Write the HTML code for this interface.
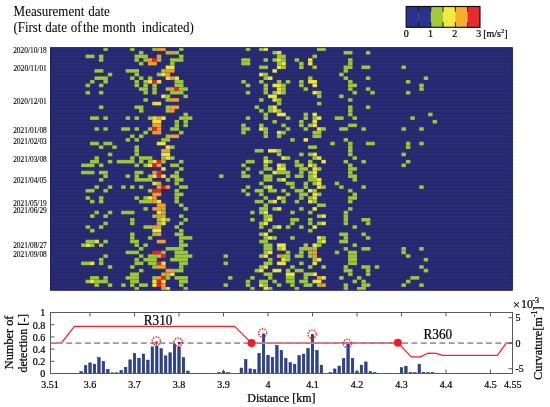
<!DOCTYPE html><html><head><meta charset="utf-8"><style>html,body{margin:0;padding:0;background:#fff;}svg{display:block;}text{font-family:"Liberation Serif","Times New Roman",serif;fill:#000;stroke:#000;stroke-width:0.22px;}</style></head><body>
<svg width="550" height="407" viewBox="0 0 550 407">
<rect x="0" y="0" width="550" height="407" fill="#fff"/>
<text transform="translate(0,15.6) scale(1,1.14)" font-size="13" style="stroke-width:0.03px"><tspan x="13.6" y="0">Measurement</tspan><tspan x="88.2" y="0">date</tspan></text>
<text transform="translate(0,31.8) scale(1,1.14)" font-size="13" style="stroke-width:0.03px"><tspan x="13.4" y="0">(First</tspan><tspan x="45.3" y="0">date</tspan><tspan x="70.8" y="0">of</tspan><tspan x="83.0" y="0">the</tspan><tspan x="102.6" y="0">month</tspan><tspan x="141.8" y="0">indicated)</tspan></text>
<rect x="406.2" y="6.5" width="12.58" height="20.8" fill="#29328f"/>
<rect x="418.48" y="6.5" width="12.58" height="20.8" fill="#29328f"/>
<rect x="430.77" y="6.5" width="12.58" height="20.8" fill="#a0ca3a"/>
<rect x="443.05" y="6.5" width="12.58" height="20.8" fill="#f2ea3e"/>
<rect x="455.33" y="6.5" width="12.58" height="20.8" fill="#f6ae2c"/>
<rect x="467.62" y="6.5" width="12.58" height="20.8" fill="#ea2a2e"/>
<line x1="418.48" y1="6.5" x2="418.48" y2="11.7" stroke="#151515" stroke-width="0.95"/>
<line x1="418.48" y1="27.3" x2="418.48" y2="22.1" stroke="#151515" stroke-width="0.95"/>
<line x1="430.77" y1="6.5" x2="430.77" y2="11.7" stroke="#151515" stroke-width="0.95"/>
<line x1="430.77" y1="27.3" x2="430.77" y2="22.1" stroke="#151515" stroke-width="0.95"/>
<line x1="443.05" y1="6.5" x2="443.05" y2="11.7" stroke="#151515" stroke-width="0.95"/>
<line x1="443.05" y1="27.3" x2="443.05" y2="22.1" stroke="#151515" stroke-width="0.95"/>
<line x1="455.33" y1="6.5" x2="455.33" y2="11.7" stroke="#151515" stroke-width="0.95"/>
<line x1="455.33" y1="27.3" x2="455.33" y2="22.1" stroke="#151515" stroke-width="0.95"/>
<line x1="467.62" y1="6.5" x2="467.62" y2="11.7" stroke="#151515" stroke-width="0.95"/>
<line x1="467.62" y1="27.3" x2="467.62" y2="22.1" stroke="#151515" stroke-width="0.95"/>
<rect x="406.2" y="6.5" width="73.7" height="20.8" fill="none" stroke="#111" stroke-width="1.2"/>
<text x="406.2" y="36.9" font-size="10" text-anchor="middle">0</text>
<text x="430.42" y="36.9" font-size="10" text-anchor="middle">1</text>
<text x="454.63" y="36.9" font-size="10" text-anchor="middle">2</text>
<text x="478.85" y="36.9" font-size="10" text-anchor="middle">3</text>
<text x="483.2" y="36.9" font-size="10">[m/s<tspan font-size="6.5" dy="-3.6">2</tspan><tspan dy="3.6">]</tspan></text>
<rect x="50" y="47.3" width="462.7" height="243.28" fill="#2a2b7c"/>
<rect x="50" y="50.18" width="462.7" height="1.8" fill="#292c6c" />
<rect x="50" y="53.81" width="462.7" height="1.8" fill="#292c6c" />
<rect x="50" y="57.44" width="462.7" height="1.8" fill="#292c6c" />
<rect x="50" y="61.07" width="462.7" height="1.8" fill="#292c6c" />
<rect x="50" y="64.7" width="462.7" height="1.8" fill="#292c6c" />
<rect x="50" y="68.34" width="462.7" height="1.8" fill="#292c6c" />
<rect x="50" y="71.97" width="462.7" height="1.8" fill="#292c6c" />
<rect x="50" y="75.6" width="462.7" height="1.8" fill="#292c6c" />
<rect x="50" y="79.23" width="462.7" height="1.8" fill="#292c6c" />
<rect x="50" y="82.86" width="462.7" height="1.8" fill="#292c6c" />
<rect x="50" y="86.49" width="462.7" height="1.8" fill="#292c6c" />
<rect x="50" y="90.12" width="462.7" height="1.8" fill="#292c6c" />
<rect x="50" y="93.75" width="462.7" height="1.8" fill="#292c6c" />
<rect x="50" y="97.38" width="462.7" height="1.8" fill="#292c6c" />
<rect x="50" y="101.01" width="462.7" height="1.8" fill="#292c6c" />
<rect x="50" y="104.65" width="462.7" height="1.8" fill="#292c6c" />
<rect x="50" y="108.28" width="462.7" height="1.8" fill="#292c6c" />
<rect x="50" y="111.91" width="462.7" height="1.8" fill="#292c6c" />
<rect x="50" y="115.54" width="462.7" height="1.8" fill="#292c6c" />
<rect x="50" y="119.17" width="462.7" height="1.8" fill="#292c6c" />
<rect x="50" y="122.8" width="462.7" height="1.8" fill="#292c6c" />
<rect x="50" y="126.43" width="462.7" height="1.8" fill="#292c6c" />
<rect x="50" y="130.06" width="462.7" height="1.8" fill="#292c6c" />
<rect x="50" y="133.69" width="462.7" height="1.8" fill="#292c6c" />
<rect x="50" y="137.32" width="462.7" height="1.8" fill="#292c6c" />
<rect x="50" y="140.96" width="462.7" height="1.8" fill="#292c6c" />
<rect x="50" y="144.59" width="462.7" height="1.8" fill="#292c6c" />
<rect x="50" y="148.22" width="462.7" height="1.8" fill="#292c6c" />
<rect x="50" y="151.85" width="462.7" height="1.8" fill="#292c6c" />
<rect x="50" y="155.48" width="462.7" height="1.8" fill="#292c6c" />
<rect x="50" y="159.11" width="462.7" height="1.8" fill="#292c6c" />
<rect x="50" y="162.74" width="462.7" height="1.8" fill="#292c6c" />
<rect x="50" y="166.37" width="462.7" height="1.8" fill="#292c6c" />
<rect x="50" y="170" width="462.7" height="1.8" fill="#292c6c" />
<rect x="50" y="173.63" width="462.7" height="1.8" fill="#292c6c" />
<rect x="50" y="177.27" width="462.7" height="1.8" fill="#292c6c" />
<rect x="50" y="180.9" width="462.7" height="1.8" fill="#292c6c" />
<rect x="50" y="184.53" width="462.7" height="1.8" fill="#292c6c" />
<rect x="50" y="188.16" width="462.7" height="1.8" fill="#292c6c" />
<rect x="50" y="191.79" width="462.7" height="1.8" fill="#292c6c" />
<rect x="50" y="195.42" width="462.7" height="1.8" fill="#292c6c" />
<rect x="50" y="199.05" width="462.7" height="1.8" fill="#292c6c" />
<rect x="50" y="202.68" width="462.7" height="1.8" fill="#292c6c" />
<rect x="50" y="206.31" width="462.7" height="1.8" fill="#292c6c" />
<rect x="50" y="209.94" width="462.7" height="1.8" fill="#292c6c" />
<rect x="50" y="213.58" width="462.7" height="1.8" fill="#292c6c" />
<rect x="50" y="217.21" width="462.7" height="1.8" fill="#292c6c" />
<rect x="50" y="220.84" width="462.7" height="1.8" fill="#292c6c" />
<rect x="50" y="224.47" width="462.7" height="1.8" fill="#292c6c" />
<rect x="50" y="228.1" width="462.7" height="1.8" fill="#292c6c" />
<rect x="50" y="231.73" width="462.7" height="1.8" fill="#292c6c" />
<rect x="50" y="235.36" width="462.7" height="1.8" fill="#292c6c" />
<rect x="50" y="238.99" width="462.7" height="1.8" fill="#292c6c" />
<rect x="50" y="242.62" width="462.7" height="1.8" fill="#292c6c" />
<rect x="50" y="246.25" width="462.7" height="1.8" fill="#292c6c" />
<rect x="50" y="249.89" width="462.7" height="1.8" fill="#292c6c" />
<rect x="50" y="253.52" width="462.7" height="1.8" fill="#292c6c" />
<rect x="50" y="257.15" width="462.7" height="1.8" fill="#292c6c" />
<rect x="50" y="260.78" width="462.7" height="1.8" fill="#292c6c" />
<rect x="50" y="264.41" width="462.7" height="1.8" fill="#292c6c" />
<rect x="50" y="268.04" width="462.7" height="1.8" fill="#292c6c" />
<rect x="50" y="271.67" width="462.7" height="1.8" fill="#292c6c" />
<rect x="50" y="275.3" width="462.7" height="1.8" fill="#292c6c" />
<rect x="50" y="278.93" width="462.7" height="1.8" fill="#292c6c" />
<rect x="50" y="282.56" width="462.7" height="1.8" fill="#292c6c" />
<rect x="50" y="286.2" width="462.7" height="1.8" fill="#292c6c" />
<rect x="103.39" y="47.3" width="4.45" height="3.63" fill="#9cc93a"/>
<rect x="130.08" y="47.3" width="4.45" height="3.63" fill="#9cc93a"/>
<rect x="152.33" y="47.3" width="4.45" height="3.63" fill="#9cc93a"/>
<rect x="156.78" y="47.3" width="8.9" height="3.63" fill="#f59f2a"/>
<rect x="179.02" y="47.3" width="4.45" height="3.63" fill="#9cc93a"/>
<rect x="245.76" y="47.3" width="4.45" height="3.63" fill="#9cc93a"/>
<rect x="259.1" y="47.3" width="4.45" height="3.63" fill="#9cc93a"/>
<rect x="263.55" y="47.3" width="4.45" height="3.63" fill="#eee63c"/>
<rect x="316.94" y="47.3" width="8.9" height="3.63" fill="#9cc93a"/>
<rect x="138.98" y="50.93" width="4.45" height="3.63" fill="#9cc93a"/>
<rect x="165.67" y="50.93" width="4.45" height="3.63" fill="#9cc93a"/>
<rect x="170.12" y="50.93" width="4.45" height="3.63" fill="#f59f2a"/>
<rect x="174.57" y="50.93" width="4.45" height="3.63" fill="#9cc93a"/>
<rect x="272.45" y="50.93" width="4.45" height="3.63" fill="#9cc93a"/>
<rect x="276.9" y="50.93" width="4.45" height="3.63" fill="#eee63c"/>
<rect x="343.63" y="50.93" width="8.9" height="3.63" fill="#9cc93a"/>
<rect x="365.88" y="50.93" width="4.45" height="3.63" fill="#9cc93a"/>
<rect x="85.59" y="54.56" width="8.9" height="3.63" fill="#9cc93a"/>
<rect x="98.94" y="54.56" width="4.45" height="3.63" fill="#9cc93a"/>
<rect x="134.53" y="54.56" width="13.35" height="3.63" fill="#9cc93a"/>
<rect x="156.78" y="54.56" width="4.45" height="3.63" fill="#f59f2a"/>
<rect x="179.02" y="54.56" width="4.45" height="3.63" fill="#9cc93a"/>
<rect x="276.9" y="54.56" width="8.9" height="3.63" fill="#9cc93a"/>
<rect x="312.49" y="54.56" width="4.45" height="3.63" fill="#9cc93a"/>
<rect x="98.94" y="58.19" width="4.45" height="3.63" fill="#9cc93a"/>
<rect x="134.53" y="58.19" width="4.45" height="3.63" fill="#9cc93a"/>
<rect x="143.43" y="58.19" width="4.45" height="3.63" fill="#9cc93a"/>
<rect x="147.88" y="58.19" width="4.45" height="3.63" fill="#f59f2a"/>
<rect x="152.33" y="58.19" width="4.45" height="3.63" fill="#ea2229"/>
<rect x="156.78" y="58.19" width="4.45" height="3.63" fill="#9cc93a"/>
<rect x="170.12" y="58.19" width="13.35" height="3.63" fill="#9cc93a"/>
<rect x="241.31" y="58.19" width="8.9" height="3.63" fill="#9cc93a"/>
<rect x="263.55" y="58.19" width="4.45" height="3.63" fill="#9cc93a"/>
<rect x="272.45" y="58.19" width="4.45" height="3.63" fill="#9cc93a"/>
<rect x="276.9" y="58.19" width="4.45" height="3.63" fill="#eee63c"/>
<rect x="281.35" y="58.19" width="4.45" height="3.63" fill="#9cc93a"/>
<rect x="294.69" y="58.19" width="4.45" height="3.63" fill="#9cc93a"/>
<rect x="308.04" y="58.19" width="4.45" height="3.63" fill="#eee63c"/>
<rect x="348.08" y="58.19" width="4.45" height="3.63" fill="#9cc93a"/>
<rect x="138.98" y="61.82" width="4.45" height="3.63" fill="#9cc93a"/>
<rect x="147.88" y="61.82" width="8.9" height="3.63" fill="#f59f2a"/>
<rect x="170.12" y="61.82" width="4.45" height="3.63" fill="#9cc93a"/>
<rect x="241.31" y="61.82" width="8.9" height="3.63" fill="#9cc93a"/>
<rect x="276.9" y="61.82" width="4.45" height="3.63" fill="#9cc93a"/>
<rect x="281.35" y="61.82" width="4.45" height="3.63" fill="#eee63c"/>
<rect x="299.14" y="61.82" width="4.45" height="3.63" fill="#9cc93a"/>
<rect x="308.04" y="61.82" width="4.45" height="3.63" fill="#eee63c"/>
<rect x="348.08" y="61.82" width="4.45" height="3.63" fill="#9cc93a"/>
<rect x="165.67" y="65.45" width="8.9" height="3.63" fill="#eee63c"/>
<rect x="259.1" y="65.45" width="8.9" height="3.63" fill="#9cc93a"/>
<rect x="276.9" y="65.45" width="4.45" height="3.63" fill="#eee63c"/>
<rect x="281.35" y="65.45" width="4.45" height="3.63" fill="#9cc93a"/>
<rect x="299.14" y="65.45" width="4.45" height="3.63" fill="#9cc93a"/>
<rect x="312.49" y="65.45" width="4.45" height="3.63" fill="#9cc93a"/>
<rect x="343.63" y="65.45" width="8.9" height="3.63" fill="#9cc93a"/>
<rect x="361.43" y="65.45" width="8.9" height="3.63" fill="#9cc93a"/>
<rect x="401.47" y="65.45" width="4.45" height="3.63" fill="#9cc93a"/>
<rect x="94.49" y="69.09" width="8.9" height="3.63" fill="#9cc93a"/>
<rect x="125.63" y="69.09" width="13.35" height="3.63" fill="#9cc93a"/>
<rect x="161.22" y="69.09" width="4.45" height="3.63" fill="#9cc93a"/>
<rect x="165.67" y="69.09" width="8.9" height="3.63" fill="#f59f2a"/>
<rect x="272.45" y="69.09" width="4.45" height="3.63" fill="#eee63c"/>
<rect x="343.63" y="69.09" width="4.45" height="3.63" fill="#9cc93a"/>
<rect x="107.84" y="72.72" width="4.45" height="3.63" fill="#9cc93a"/>
<rect x="134.53" y="72.72" width="4.45" height="3.63" fill="#9cc93a"/>
<rect x="156.78" y="72.72" width="4.45" height="3.63" fill="#9cc93a"/>
<rect x="161.22" y="72.72" width="4.45" height="3.63" fill="#eee63c"/>
<rect x="165.67" y="72.72" width="4.45" height="3.63" fill="#f59f2a"/>
<rect x="259.1" y="72.72" width="4.45" height="3.63" fill="#eee63c"/>
<rect x="263.55" y="72.72" width="4.45" height="3.63" fill="#9cc93a"/>
<rect x="339.19" y="72.72" width="4.45" height="3.63" fill="#9cc93a"/>
<rect x="94.49" y="76.35" width="13.35" height="3.63" fill="#9cc93a"/>
<rect x="130.08" y="76.35" width="4.45" height="3.63" fill="#9cc93a"/>
<rect x="138.98" y="76.35" width="4.45" height="3.63" fill="#9cc93a"/>
<rect x="147.88" y="76.35" width="4.45" height="3.63" fill="#9cc93a"/>
<rect x="165.67" y="76.35" width="4.45" height="3.63" fill="#eee63c"/>
<rect x="170.12" y="76.35" width="4.45" height="3.63" fill="#f59f2a"/>
<rect x="174.57" y="76.35" width="4.45" height="3.63" fill="#eee63c"/>
<rect x="263.55" y="76.35" width="4.45" height="3.63" fill="#9cc93a"/>
<rect x="268" y="76.35" width="4.45" height="3.63" fill="#eee63c"/>
<rect x="308.04" y="76.35" width="4.45" height="3.63" fill="#9cc93a"/>
<rect x="343.63" y="76.35" width="4.45" height="3.63" fill="#9cc93a"/>
<rect x="365.88" y="76.35" width="4.45" height="3.63" fill="#9cc93a"/>
<rect x="423.72" y="76.35" width="4.45" height="3.63" fill="#9cc93a"/>
<rect x="90.04" y="79.98" width="4.45" height="3.63" fill="#9cc93a"/>
<rect x="103.39" y="79.98" width="4.45" height="3.63" fill="#9cc93a"/>
<rect x="134.53" y="79.98" width="4.45" height="3.63" fill="#9cc93a"/>
<rect x="143.43" y="79.98" width="4.45" height="3.63" fill="#9cc93a"/>
<rect x="147.88" y="79.98" width="4.45" height="3.63" fill="#eee63c"/>
<rect x="152.33" y="79.98" width="4.45" height="3.63" fill="#ea2229"/>
<rect x="156.78" y="79.98" width="4.45" height="3.63" fill="#eee63c"/>
<rect x="174.57" y="79.98" width="8.9" height="3.63" fill="#9cc93a"/>
<rect x="241.31" y="79.98" width="4.45" height="3.63" fill="#9cc93a"/>
<rect x="259.1" y="79.98" width="4.45" height="3.63" fill="#9cc93a"/>
<rect x="276.9" y="79.98" width="4.45" height="3.63" fill="#9cc93a"/>
<rect x="285.8" y="79.98" width="4.45" height="3.63" fill="#9cc93a"/>
<rect x="299.14" y="79.98" width="4.45" height="3.63" fill="#9cc93a"/>
<rect x="308.04" y="79.98" width="8.9" height="3.63" fill="#eee63c"/>
<rect x="348.08" y="79.98" width="4.45" height="3.63" fill="#9cc93a"/>
<rect x="405.92" y="79.98" width="4.45" height="3.63" fill="#9cc93a"/>
<rect x="85.59" y="83.61" width="4.45" height="3.63" fill="#9cc93a"/>
<rect x="98.94" y="83.61" width="4.45" height="3.63" fill="#9cc93a"/>
<rect x="134.53" y="83.61" width="4.45" height="3.63" fill="#9cc93a"/>
<rect x="143.43" y="83.61" width="4.45" height="3.63" fill="#9cc93a"/>
<rect x="152.33" y="83.61" width="4.45" height="3.63" fill="#9cc93a"/>
<rect x="174.57" y="83.61" width="8.9" height="3.63" fill="#9cc93a"/>
<rect x="245.76" y="83.61" width="4.45" height="3.63" fill="#9cc93a"/>
<rect x="263.55" y="83.61" width="4.45" height="3.63" fill="#9cc93a"/>
<rect x="272.45" y="83.61" width="8.9" height="3.63" fill="#eee63c"/>
<rect x="281.35" y="83.61" width="4.45" height="3.63" fill="#9cc93a"/>
<rect x="299.14" y="83.61" width="4.45" height="3.63" fill="#9cc93a"/>
<rect x="312.49" y="83.61" width="4.45" height="3.63" fill="#eee63c"/>
<rect x="348.08" y="83.61" width="8.9" height="3.63" fill="#9cc93a"/>
<rect x="419.27" y="83.61" width="4.45" height="3.63" fill="#9cc93a"/>
<rect x="138.98" y="87.24" width="8.9" height="3.63" fill="#9cc93a"/>
<rect x="152.33" y="87.24" width="4.45" height="3.63" fill="#9cc93a"/>
<rect x="165.67" y="87.24" width="4.45" height="3.63" fill="#9cc93a"/>
<rect x="170.12" y="87.24" width="4.45" height="3.63" fill="#f59f2a"/>
<rect x="174.57" y="87.24" width="4.45" height="3.63" fill="#ea2229"/>
<rect x="179.02" y="87.24" width="8.9" height="3.63" fill="#9cc93a"/>
<rect x="263.55" y="87.24" width="4.45" height="3.63" fill="#9cc93a"/>
<rect x="276.9" y="87.24" width="4.45" height="3.63" fill="#eee63c"/>
<rect x="281.35" y="87.24" width="4.45" height="3.63" fill="#9cc93a"/>
<rect x="303.59" y="87.24" width="4.45" height="3.63" fill="#9cc93a"/>
<rect x="348.08" y="87.24" width="4.45" height="3.63" fill="#9cc93a"/>
<rect x="365.88" y="87.24" width="4.45" height="3.63" fill="#9cc93a"/>
<rect x="419.27" y="87.24" width="4.45" height="3.63" fill="#9cc93a"/>
<rect x="85.59" y="90.87" width="4.45" height="3.63" fill="#9cc93a"/>
<rect x="98.94" y="90.87" width="4.45" height="3.63" fill="#9cc93a"/>
<rect x="143.43" y="90.87" width="4.45" height="3.63" fill="#9cc93a"/>
<rect x="152.33" y="90.87" width="4.45" height="3.63" fill="#9cc93a"/>
<rect x="170.12" y="90.87" width="13.35" height="3.63" fill="#9cc93a"/>
<rect x="245.76" y="90.87" width="4.45" height="3.63" fill="#9cc93a"/>
<rect x="263.55" y="90.87" width="4.45" height="3.63" fill="#9cc93a"/>
<rect x="272.45" y="90.87" width="4.45" height="3.63" fill="#9cc93a"/>
<rect x="276.9" y="90.87" width="4.45" height="3.63" fill="#eee63c"/>
<rect x="281.35" y="90.87" width="4.45" height="3.63" fill="#9cc93a"/>
<rect x="312.49" y="90.87" width="4.45" height="3.63" fill="#eee63c"/>
<rect x="316.94" y="90.87" width="4.45" height="3.63" fill="#9cc93a"/>
<rect x="352.53" y="90.87" width="4.45" height="3.63" fill="#9cc93a"/>
<rect x="370.33" y="90.87" width="4.45" height="3.63" fill="#9cc93a"/>
<rect x="405.92" y="90.87" width="4.45" height="3.63" fill="#9cc93a"/>
<rect x="161.22" y="94.5" width="4.45" height="3.63" fill="#eee63c"/>
<rect x="165.67" y="94.5" width="4.45" height="3.63" fill="#9cc93a"/>
<rect x="183.47" y="94.5" width="4.45" height="3.63" fill="#9cc93a"/>
<rect x="268" y="94.5" width="8.9" height="3.63" fill="#eee63c"/>
<rect x="316.94" y="94.5" width="4.45" height="3.63" fill="#9cc93a"/>
<rect x="339.19" y="94.5" width="4.45" height="3.63" fill="#9cc93a"/>
<rect x="143.43" y="98.13" width="4.45" height="3.63" fill="#9cc93a"/>
<rect x="165.67" y="98.13" width="4.45" height="3.63" fill="#9cc93a"/>
<rect x="170.12" y="98.13" width="8.9" height="3.63" fill="#f59f2a"/>
<rect x="259.1" y="98.13" width="4.45" height="3.63" fill="#9cc93a"/>
<rect x="272.45" y="98.13" width="4.45" height="3.63" fill="#eee63c"/>
<rect x="276.9" y="98.13" width="4.45" height="3.63" fill="#9cc93a"/>
<rect x="348.08" y="98.13" width="4.45" height="3.63" fill="#9cc93a"/>
<rect x="152.33" y="101.76" width="8.9" height="3.63" fill="#eee63c"/>
<rect x="276.9" y="101.76" width="4.45" height="3.63" fill="#9cc93a"/>
<rect x="316.94" y="101.76" width="4.45" height="3.63" fill="#9cc93a"/>
<rect x="98.94" y="105.4" width="4.45" height="3.63" fill="#9cc93a"/>
<rect x="134.53" y="105.4" width="8.9" height="3.63" fill="#9cc93a"/>
<rect x="165.67" y="105.4" width="4.45" height="3.63" fill="#9cc93a"/>
<rect x="170.12" y="105.4" width="8.9" height="3.63" fill="#f59f2a"/>
<rect x="254.65" y="105.4" width="4.45" height="3.63" fill="#9cc93a"/>
<rect x="268" y="105.4" width="4.45" height="3.63" fill="#9cc93a"/>
<rect x="272.45" y="105.4" width="4.45" height="3.63" fill="#eee63c"/>
<rect x="348.08" y="105.4" width="4.45" height="3.63" fill="#9cc93a"/>
<rect x="365.88" y="105.4" width="4.45" height="3.63" fill="#9cc93a"/>
<rect x="138.98" y="109.03" width="4.45" height="3.63" fill="#9cc93a"/>
<rect x="165.67" y="109.03" width="4.45" height="3.63" fill="#9cc93a"/>
<rect x="170.12" y="109.03" width="4.45" height="3.63" fill="#f59f2a"/>
<rect x="259.1" y="109.03" width="4.45" height="3.63" fill="#9cc93a"/>
<rect x="268" y="109.03" width="4.45" height="3.63" fill="#9cc93a"/>
<rect x="272.45" y="109.03" width="4.45" height="3.63" fill="#eee63c"/>
<rect x="276.9" y="109.03" width="4.45" height="3.63" fill="#9cc93a"/>
<rect x="348.08" y="109.03" width="4.45" height="3.63" fill="#9cc93a"/>
<rect x="183.47" y="112.66" width="4.45" height="3.63" fill="#9cc93a"/>
<rect x="263.55" y="112.66" width="4.45" height="3.63" fill="#9cc93a"/>
<rect x="276.9" y="112.66" width="8.9" height="3.63" fill="#eee63c"/>
<rect x="303.59" y="112.66" width="4.45" height="3.63" fill="#9cc93a"/>
<rect x="312.49" y="112.66" width="4.45" height="3.63" fill="#eee63c"/>
<rect x="348.08" y="112.66" width="4.45" height="3.63" fill="#9cc93a"/>
<rect x="428.16" y="112.66" width="4.45" height="3.63" fill="#9cc93a"/>
<rect x="90.04" y="116.29" width="8.9" height="3.63" fill="#9cc93a"/>
<rect x="103.39" y="116.29" width="4.45" height="3.63" fill="#9cc93a"/>
<rect x="125.63" y="116.29" width="4.45" height="3.63" fill="#9cc93a"/>
<rect x="134.53" y="116.29" width="4.45" height="3.63" fill="#9cc93a"/>
<rect x="147.88" y="116.29" width="4.45" height="3.63" fill="#9cc93a"/>
<rect x="152.33" y="116.29" width="4.45" height="3.63" fill="#eee63c"/>
<rect x="156.78" y="116.29" width="4.45" height="3.63" fill="#f59f2a"/>
<rect x="161.22" y="116.29" width="4.45" height="3.63" fill="#eee63c"/>
<rect x="179.02" y="116.29" width="13.35" height="3.63" fill="#9cc93a"/>
<rect x="245.76" y="116.29" width="4.45" height="3.63" fill="#9cc93a"/>
<rect x="263.55" y="116.29" width="4.45" height="3.63" fill="#9cc93a"/>
<rect x="285.8" y="116.29" width="4.45" height="3.63" fill="#9cc93a"/>
<rect x="303.59" y="116.29" width="4.45" height="3.63" fill="#9cc93a"/>
<rect x="312.49" y="116.29" width="4.45" height="3.63" fill="#9cc93a"/>
<rect x="316.94" y="116.29" width="4.45" height="3.63" fill="#eee63c"/>
<rect x="334.74" y="116.29" width="8.9" height="3.63" fill="#9cc93a"/>
<rect x="352.53" y="116.29" width="4.45" height="3.63" fill="#9cc93a"/>
<rect x="410.37" y="116.29" width="4.45" height="3.63" fill="#9cc93a"/>
<rect x="152.33" y="119.92" width="8.9" height="3.63" fill="#eee63c"/>
<rect x="174.57" y="119.92" width="4.45" height="3.63" fill="#9cc93a"/>
<rect x="183.47" y="119.92" width="4.45" height="3.63" fill="#9cc93a"/>
<rect x="272.45" y="119.92" width="4.45" height="3.63" fill="#9cc93a"/>
<rect x="299.14" y="119.92" width="4.45" height="3.63" fill="#9cc93a"/>
<rect x="312.49" y="119.92" width="4.45" height="3.63" fill="#eee63c"/>
<rect x="432.61" y="119.92" width="4.45" height="3.63" fill="#9cc93a"/>
<rect x="152.33" y="123.55" width="8.9" height="3.63" fill="#f59f2a"/>
<rect x="174.57" y="123.55" width="4.45" height="3.63" fill="#9cc93a"/>
<rect x="183.47" y="123.55" width="4.45" height="3.63" fill="#9cc93a"/>
<rect x="241.31" y="123.55" width="4.45" height="3.63" fill="#9cc93a"/>
<rect x="259.1" y="123.55" width="4.45" height="3.63" fill="#9cc93a"/>
<rect x="281.35" y="123.55" width="4.45" height="3.63" fill="#9cc93a"/>
<rect x="299.14" y="123.55" width="4.45" height="3.63" fill="#9cc93a"/>
<rect x="308.04" y="123.55" width="4.45" height="3.63" fill="#9cc93a"/>
<rect x="312.49" y="123.55" width="4.45" height="3.63" fill="#eee63c"/>
<rect x="348.08" y="123.55" width="8.9" height="3.63" fill="#9cc93a"/>
<rect x="94.49" y="127.18" width="4.45" height="3.63" fill="#9cc93a"/>
<rect x="103.39" y="127.18" width="4.45" height="3.63" fill="#9cc93a"/>
<rect x="121.18" y="127.18" width="8.9" height="3.63" fill="#9cc93a"/>
<rect x="134.53" y="127.18" width="4.45" height="3.63" fill="#9cc93a"/>
<rect x="147.88" y="127.18" width="4.45" height="3.63" fill="#9cc93a"/>
<rect x="152.33" y="127.18" width="4.45" height="3.63" fill="#ea2229"/>
<rect x="156.78" y="127.18" width="4.45" height="3.63" fill="#f59f2a"/>
<rect x="170.12" y="127.18" width="8.9" height="3.63" fill="#9cc93a"/>
<rect x="241.31" y="127.18" width="8.9" height="3.63" fill="#9cc93a"/>
<rect x="259.1" y="127.18" width="4.45" height="3.63" fill="#eee63c"/>
<rect x="263.55" y="127.18" width="4.45" height="3.63" fill="#9cc93a"/>
<rect x="285.8" y="127.18" width="4.45" height="3.63" fill="#9cc93a"/>
<rect x="303.59" y="127.18" width="4.45" height="3.63" fill="#9cc93a"/>
<rect x="316.94" y="127.18" width="4.45" height="3.63" fill="#eee63c"/>
<rect x="321.39" y="127.18" width="4.45" height="3.63" fill="#9cc93a"/>
<rect x="339.19" y="127.18" width="8.9" height="3.63" fill="#9cc93a"/>
<rect x="361.43" y="127.18" width="4.45" height="3.63" fill="#9cc93a"/>
<rect x="401.47" y="127.18" width="4.45" height="3.63" fill="#9cc93a"/>
<rect x="419.27" y="127.18" width="4.45" height="3.63" fill="#9cc93a"/>
<rect x="143.43" y="130.81" width="4.45" height="3.63" fill="#9cc93a"/>
<rect x="152.33" y="130.81" width="8.9" height="3.63" fill="#f59f2a"/>
<rect x="179.02" y="130.81" width="4.45" height="3.63" fill="#9cc93a"/>
<rect x="241.31" y="130.81" width="4.45" height="3.63" fill="#9cc93a"/>
<rect x="263.55" y="130.81" width="4.45" height="3.63" fill="#9cc93a"/>
<rect x="276.9" y="130.81" width="4.45" height="3.63" fill="#eee63c"/>
<rect x="281.35" y="130.81" width="4.45" height="3.63" fill="#9cc93a"/>
<rect x="312.49" y="130.81" width="8.9" height="3.63" fill="#9cc93a"/>
<rect x="130.08" y="134.44" width="4.45" height="3.63" fill="#9cc93a"/>
<rect x="138.98" y="134.44" width="4.45" height="3.63" fill="#9cc93a"/>
<rect x="165.67" y="134.44" width="4.45" height="3.63" fill="#9cc93a"/>
<rect x="170.12" y="134.44" width="8.9" height="3.63" fill="#f59f2a"/>
<rect x="263.55" y="134.44" width="4.45" height="3.63" fill="#9cc93a"/>
<rect x="276.9" y="134.44" width="4.45" height="3.63" fill="#9cc93a"/>
<rect x="312.49" y="134.44" width="8.9" height="3.63" fill="#9cc93a"/>
<rect x="125.63" y="138.07" width="4.45" height="3.63" fill="#9cc93a"/>
<rect x="134.53" y="138.07" width="4.45" height="3.63" fill="#9cc93a"/>
<rect x="161.22" y="138.07" width="8.9" height="3.63" fill="#9cc93a"/>
<rect x="290.25" y="138.07" width="4.45" height="3.63" fill="#9cc93a"/>
<rect x="303.59" y="138.07" width="4.45" height="3.63" fill="#eee63c"/>
<rect x="343.63" y="138.07" width="4.45" height="3.63" fill="#9cc93a"/>
<rect x="90.04" y="141.71" width="8.9" height="3.63" fill="#9cc93a"/>
<rect x="103.39" y="141.71" width="8.9" height="3.63" fill="#9cc93a"/>
<rect x="156.78" y="141.71" width="8.9" height="3.63" fill="#eee63c"/>
<rect x="330.29" y="141.71" width="4.45" height="3.63" fill="#9cc93a"/>
<rect x="348.08" y="141.71" width="4.45" height="3.63" fill="#9cc93a"/>
<rect x="365.88" y="141.71" width="8.9" height="3.63" fill="#9cc93a"/>
<rect x="405.92" y="141.71" width="4.45" height="3.63" fill="#9cc93a"/>
<rect x="419.27" y="141.71" width="4.45" height="3.63" fill="#9cc93a"/>
<rect x="98.94" y="145.34" width="4.45" height="3.63" fill="#9cc93a"/>
<rect x="112.29" y="145.34" width="4.45" height="3.63" fill="#9cc93a"/>
<rect x="134.53" y="145.34" width="4.45" height="3.63" fill="#9cc93a"/>
<rect x="165.67" y="145.34" width="4.45" height="3.63" fill="#eee63c"/>
<rect x="170.12" y="145.34" width="4.45" height="3.63" fill="#9cc93a"/>
<rect x="308.04" y="145.34" width="8.9" height="3.63" fill="#9cc93a"/>
<rect x="348.08" y="145.34" width="4.45" height="3.63" fill="#9cc93a"/>
<rect x="405.92" y="145.34" width="4.45" height="3.63" fill="#9cc93a"/>
<rect x="134.53" y="148.97" width="4.45" height="3.63" fill="#9cc93a"/>
<rect x="161.22" y="148.97" width="8.9" height="3.63" fill="#f59f2a"/>
<rect x="254.65" y="148.97" width="8.9" height="3.63" fill="#9cc93a"/>
<rect x="268" y="148.97" width="8.9" height="3.63" fill="#eee63c"/>
<rect x="276.9" y="148.97" width="4.45" height="3.63" fill="#9cc93a"/>
<rect x="348.08" y="148.97" width="4.45" height="3.63" fill="#9cc93a"/>
<rect x="107.84" y="152.6" width="4.45" height="3.63" fill="#9cc93a"/>
<rect x="134.53" y="152.6" width="4.45" height="3.63" fill="#9cc93a"/>
<rect x="161.22" y="152.6" width="8.9" height="3.63" fill="#eee63c"/>
<rect x="276.9" y="152.6" width="4.45" height="3.63" fill="#9cc93a"/>
<rect x="299.14" y="152.6" width="4.45" height="3.63" fill="#9cc93a"/>
<rect x="308.04" y="152.6" width="4.45" height="3.63" fill="#9cc93a"/>
<rect x="312.49" y="152.6" width="4.45" height="3.63" fill="#eee63c"/>
<rect x="348.08" y="152.6" width="4.45" height="3.63" fill="#9cc93a"/>
<rect x="401.47" y="152.6" width="4.45" height="3.63" fill="#9cc93a"/>
<rect x="94.49" y="156.23" width="4.45" height="3.63" fill="#9cc93a"/>
<rect x="130.08" y="156.23" width="4.45" height="3.63" fill="#9cc93a"/>
<rect x="138.98" y="156.23" width="13.35" height="3.63" fill="#9cc93a"/>
<rect x="161.22" y="156.23" width="4.45" height="3.63" fill="#9cc93a"/>
<rect x="165.67" y="156.23" width="4.45" height="3.63" fill="#eee63c"/>
<rect x="170.12" y="156.23" width="4.45" height="3.63" fill="#9cc93a"/>
<rect x="263.55" y="156.23" width="4.45" height="3.63" fill="#9cc93a"/>
<rect x="281.35" y="156.23" width="4.45" height="3.63" fill="#eee63c"/>
<rect x="285.8" y="156.23" width="4.45" height="3.63" fill="#9cc93a"/>
<rect x="312.49" y="156.23" width="4.45" height="3.63" fill="#9cc93a"/>
<rect x="316.94" y="156.23" width="4.45" height="3.63" fill="#eee63c"/>
<rect x="352.53" y="156.23" width="4.45" height="3.63" fill="#9cc93a"/>
<rect x="90.04" y="159.86" width="8.9" height="3.63" fill="#9cc93a"/>
<rect x="107.84" y="159.86" width="4.45" height="3.63" fill="#9cc93a"/>
<rect x="116.73" y="159.86" width="17.8" height="3.63" fill="#9cc93a"/>
<rect x="138.98" y="159.86" width="4.45" height="3.63" fill="#9cc93a"/>
<rect x="147.88" y="159.86" width="4.45" height="3.63" fill="#9cc93a"/>
<rect x="152.33" y="159.86" width="4.45" height="3.63" fill="#eee63c"/>
<rect x="156.78" y="159.86" width="4.45" height="3.63" fill="#ea2229"/>
<rect x="161.22" y="159.86" width="4.45" height="3.63" fill="#9cc93a"/>
<rect x="179.02" y="159.86" width="4.45" height="3.63" fill="#9cc93a"/>
<rect x="245.76" y="159.86" width="8.9" height="3.63" fill="#9cc93a"/>
<rect x="263.55" y="159.86" width="4.45" height="3.63" fill="#eee63c"/>
<rect x="268" y="159.86" width="4.45" height="3.63" fill="#9cc93a"/>
<rect x="294.69" y="159.86" width="4.45" height="3.63" fill="#9cc93a"/>
<rect x="308.04" y="159.86" width="4.45" height="3.63" fill="#9cc93a"/>
<rect x="321.39" y="159.86" width="4.45" height="3.63" fill="#eee63c"/>
<rect x="343.63" y="159.86" width="4.45" height="3.63" fill="#9cc93a"/>
<rect x="361.43" y="159.86" width="4.45" height="3.63" fill="#9cc93a"/>
<rect x="405.92" y="159.86" width="4.45" height="3.63" fill="#9cc93a"/>
<rect x="81.14" y="163.49" width="13.35" height="3.63" fill="#9cc93a"/>
<rect x="98.94" y="163.49" width="4.45" height="3.63" fill="#9cc93a"/>
<rect x="134.53" y="163.49" width="4.45" height="3.63" fill="#9cc93a"/>
<rect x="143.43" y="163.49" width="4.45" height="3.63" fill="#9cc93a"/>
<rect x="147.88" y="163.49" width="4.45" height="3.63" fill="#eee63c"/>
<rect x="152.33" y="163.49" width="4.45" height="3.63" fill="#ea2229"/>
<rect x="156.78" y="163.49" width="4.45" height="3.63" fill="#f59f2a"/>
<rect x="170.12" y="163.49" width="8.9" height="3.63" fill="#9cc93a"/>
<rect x="241.31" y="163.49" width="4.45" height="3.63" fill="#9cc93a"/>
<rect x="263.55" y="163.49" width="4.45" height="3.63" fill="#9cc93a"/>
<rect x="276.9" y="163.49" width="4.45" height="3.63" fill="#eee63c"/>
<rect x="281.35" y="163.49" width="4.45" height="3.63" fill="#9cc93a"/>
<rect x="294.69" y="163.49" width="8.9" height="3.63" fill="#9cc93a"/>
<rect x="308.04" y="163.49" width="4.45" height="3.63" fill="#eee63c"/>
<rect x="312.49" y="163.49" width="4.45" height="3.63" fill="#9cc93a"/>
<rect x="348.08" y="163.49" width="4.45" height="3.63" fill="#9cc93a"/>
<rect x="401.47" y="163.49" width="4.45" height="3.63" fill="#9cc93a"/>
<rect x="161.22" y="167.12" width="4.45" height="3.63" fill="#eee63c"/>
<rect x="179.02" y="167.12" width="4.45" height="3.63" fill="#9cc93a"/>
<rect x="245.76" y="167.12" width="4.45" height="3.63" fill="#9cc93a"/>
<rect x="263.55" y="167.12" width="8.9" height="3.63" fill="#9cc93a"/>
<rect x="276.9" y="167.12" width="8.9" height="3.63" fill="#eee63c"/>
<rect x="299.14" y="167.12" width="8.9" height="3.63" fill="#9cc93a"/>
<rect x="312.49" y="167.12" width="4.45" height="3.63" fill="#eee63c"/>
<rect x="316.94" y="167.12" width="4.45" height="3.63" fill="#9cc93a"/>
<rect x="348.08" y="167.12" width="8.9" height="3.63" fill="#9cc93a"/>
<rect x="81.14" y="170.75" width="13.35" height="3.63" fill="#9cc93a"/>
<rect x="98.94" y="170.75" width="8.9" height="3.63" fill="#9cc93a"/>
<rect x="134.53" y="170.75" width="8.9" height="3.63" fill="#9cc93a"/>
<rect x="152.33" y="170.75" width="4.45" height="3.63" fill="#f59f2a"/>
<rect x="156.78" y="170.75" width="4.45" height="3.63" fill="#ea2229"/>
<rect x="174.57" y="170.75" width="4.45" height="3.63" fill="#9cc93a"/>
<rect x="241.31" y="170.75" width="4.45" height="3.63" fill="#9cc93a"/>
<rect x="259.1" y="170.75" width="4.45" height="3.63" fill="#9cc93a"/>
<rect x="272.45" y="170.75" width="4.45" height="3.63" fill="#eee63c"/>
<rect x="276.9" y="170.75" width="13.35" height="3.63" fill="#9cc93a"/>
<rect x="299.14" y="170.75" width="4.45" height="3.63" fill="#9cc93a"/>
<rect x="308.04" y="170.75" width="4.45" height="3.63" fill="#9cc93a"/>
<rect x="312.49" y="170.75" width="4.45" height="3.63" fill="#eee63c"/>
<rect x="348.08" y="170.75" width="4.45" height="3.63" fill="#9cc93a"/>
<rect x="103.39" y="174.38" width="4.45" height="3.63" fill="#9cc93a"/>
<rect x="125.63" y="174.38" width="4.45" height="3.63" fill="#9cc93a"/>
<rect x="134.53" y="174.38" width="4.45" height="3.63" fill="#9cc93a"/>
<rect x="147.88" y="174.38" width="4.45" height="3.63" fill="#9cc93a"/>
<rect x="152.33" y="174.38" width="4.45" height="3.63" fill="#eee63c"/>
<rect x="156.78" y="174.38" width="4.45" height="3.63" fill="#ea2229"/>
<rect x="161.22" y="174.38" width="4.45" height="3.63" fill="#eee63c"/>
<rect x="170.12" y="174.38" width="8.9" height="3.63" fill="#9cc93a"/>
<rect x="219.06" y="174.38" width="4.45" height="3.63" fill="#9cc93a"/>
<rect x="241.31" y="174.38" width="8.9" height="3.63" fill="#9cc93a"/>
<rect x="263.55" y="174.38" width="8.9" height="3.63" fill="#9cc93a"/>
<rect x="285.8" y="174.38" width="4.45" height="3.63" fill="#9cc93a"/>
<rect x="294.69" y="174.38" width="8.9" height="3.63" fill="#9cc93a"/>
<rect x="308.04" y="174.38" width="4.45" height="3.63" fill="#9cc93a"/>
<rect x="312.49" y="174.38" width="4.45" height="3.63" fill="#eee63c"/>
<rect x="348.08" y="174.38" width="8.9" height="3.63" fill="#9cc93a"/>
<rect x="98.94" y="178.02" width="4.45" height="3.63" fill="#9cc93a"/>
<rect x="134.53" y="178.02" width="17.8" height="3.63" fill="#9cc93a"/>
<rect x="165.67" y="178.02" width="4.45" height="3.63" fill="#9cc93a"/>
<rect x="174.57" y="178.02" width="8.9" height="3.63" fill="#9cc93a"/>
<rect x="263.55" y="178.02" width="8.9" height="3.63" fill="#9cc93a"/>
<rect x="276.9" y="178.02" width="4.45" height="3.63" fill="#9cc93a"/>
<rect x="281.35" y="178.02" width="4.45" height="3.63" fill="#eee63c"/>
<rect x="308.04" y="178.02" width="8.9" height="3.63" fill="#9cc93a"/>
<rect x="316.94" y="178.02" width="4.45" height="3.63" fill="#eee63c"/>
<rect x="352.53" y="178.02" width="4.45" height="3.63" fill="#9cc93a"/>
<rect x="152.33" y="181.65" width="4.45" height="3.63" fill="#eee63c"/>
<rect x="156.78" y="181.65" width="4.45" height="3.63" fill="#f59f2a"/>
<rect x="174.57" y="181.65" width="4.45" height="3.63" fill="#9cc93a"/>
<rect x="259.1" y="181.65" width="4.45" height="3.63" fill="#9cc93a"/>
<rect x="285.8" y="181.65" width="8.9" height="3.63" fill="#9cc93a"/>
<rect x="303.59" y="181.65" width="4.45" height="3.63" fill="#9cc93a"/>
<rect x="312.49" y="181.65" width="4.45" height="3.63" fill="#9cc93a"/>
<rect x="316.94" y="181.65" width="4.45" height="3.63" fill="#eee63c"/>
<rect x="334.74" y="181.65" width="4.45" height="3.63" fill="#9cc93a"/>
<rect x="94.49" y="185.28" width="4.45" height="3.63" fill="#9cc93a"/>
<rect x="107.84" y="185.28" width="4.45" height="3.63" fill="#9cc93a"/>
<rect x="121.18" y="185.28" width="4.45" height="3.63" fill="#9cc93a"/>
<rect x="130.08" y="185.28" width="4.45" height="3.63" fill="#9cc93a"/>
<rect x="138.98" y="185.28" width="4.45" height="3.63" fill="#9cc93a"/>
<rect x="156.78" y="185.28" width="4.45" height="3.63" fill="#9cc93a"/>
<rect x="161.22" y="185.28" width="4.45" height="3.63" fill="#ea2229"/>
<rect x="165.67" y="185.28" width="4.45" height="3.63" fill="#f59f2a"/>
<rect x="179.02" y="185.28" width="8.9" height="3.63" fill="#9cc93a"/>
<rect x="245.76" y="185.28" width="4.45" height="3.63" fill="#9cc93a"/>
<rect x="263.55" y="185.28" width="4.45" height="3.63" fill="#9cc93a"/>
<rect x="268" y="185.28" width="4.45" height="3.63" fill="#eee63c"/>
<rect x="290.25" y="185.28" width="4.45" height="3.63" fill="#9cc93a"/>
<rect x="303.59" y="185.28" width="4.45" height="3.63" fill="#9cc93a"/>
<rect x="316.94" y="185.28" width="4.45" height="3.63" fill="#eee63c"/>
<rect x="321.39" y="185.28" width="4.45" height="3.63" fill="#9cc93a"/>
<rect x="339.19" y="185.28" width="4.45" height="3.63" fill="#9cc93a"/>
<rect x="361.43" y="185.28" width="4.45" height="3.63" fill="#9cc93a"/>
<rect x="419.27" y="185.28" width="4.45" height="3.63" fill="#9cc93a"/>
<rect x="85.59" y="188.91" width="8.9" height="3.63" fill="#9cc93a"/>
<rect x="103.39" y="188.91" width="4.45" height="3.63" fill="#9cc93a"/>
<rect x="147.88" y="188.91" width="4.45" height="3.63" fill="#9cc93a"/>
<rect x="152.33" y="188.91" width="8.9" height="3.63" fill="#ea2229"/>
<rect x="174.57" y="188.91" width="4.45" height="3.63" fill="#9cc93a"/>
<rect x="241.31" y="188.91" width="4.45" height="3.63" fill="#9cc93a"/>
<rect x="254.65" y="188.91" width="8.9" height="3.63" fill="#9cc93a"/>
<rect x="268" y="188.91" width="8.9" height="3.63" fill="#9cc93a"/>
<rect x="281.35" y="188.91" width="4.45" height="3.63" fill="#9cc93a"/>
<rect x="294.69" y="188.91" width="8.9" height="3.63" fill="#9cc93a"/>
<rect x="308.04" y="188.91" width="4.45" height="3.63" fill="#eee63c"/>
<rect x="312.49" y="188.91" width="4.45" height="3.63" fill="#9cc93a"/>
<rect x="348.08" y="188.91" width="4.45" height="3.63" fill="#9cc93a"/>
<rect x="152.33" y="192.54" width="8.9" height="3.63" fill="#f59f2a"/>
<rect x="174.57" y="192.54" width="8.9" height="3.63" fill="#9cc93a"/>
<rect x="245.76" y="192.54" width="4.45" height="3.63" fill="#9cc93a"/>
<rect x="259.1" y="192.54" width="4.45" height="3.63" fill="#9cc93a"/>
<rect x="285.8" y="192.54" width="4.45" height="3.63" fill="#9cc93a"/>
<rect x="299.14" y="192.54" width="8.9" height="3.63" fill="#9cc93a"/>
<rect x="312.49" y="192.54" width="4.45" height="3.63" fill="#eee63c"/>
<rect x="316.94" y="192.54" width="4.45" height="3.63" fill="#9cc93a"/>
<rect x="352.53" y="192.54" width="4.45" height="3.63" fill="#9cc93a"/>
<rect x="85.59" y="196.17" width="4.45" height="3.63" fill="#9cc93a"/>
<rect x="98.94" y="196.17" width="4.45" height="3.63" fill="#9cc93a"/>
<rect x="134.53" y="196.17" width="4.45" height="3.63" fill="#9cc93a"/>
<rect x="143.43" y="196.17" width="4.45" height="3.63" fill="#9cc93a"/>
<rect x="147.88" y="196.17" width="4.45" height="3.63" fill="#eee63c"/>
<rect x="152.33" y="196.17" width="4.45" height="3.63" fill="#f59f2a"/>
<rect x="174.57" y="196.17" width="4.45" height="3.63" fill="#9cc93a"/>
<rect x="263.55" y="196.17" width="4.45" height="3.63" fill="#9cc93a"/>
<rect x="276.9" y="196.17" width="4.45" height="3.63" fill="#eee63c"/>
<rect x="281.35" y="196.17" width="4.45" height="3.63" fill="#9cc93a"/>
<rect x="299.14" y="196.17" width="4.45" height="3.63" fill="#9cc93a"/>
<rect x="308.04" y="196.17" width="4.45" height="3.63" fill="#9cc93a"/>
<rect x="312.49" y="196.17" width="4.45" height="3.63" fill="#eee63c"/>
<rect x="348.08" y="196.17" width="8.9" height="3.63" fill="#9cc93a"/>
<rect x="90.04" y="199.8" width="4.45" height="3.63" fill="#9cc93a"/>
<rect x="98.94" y="199.8" width="4.45" height="3.63" fill="#9cc93a"/>
<rect x="138.98" y="199.8" width="13.35" height="3.63" fill="#9cc93a"/>
<rect x="152.33" y="199.8" width="4.45" height="3.63" fill="#f59f2a"/>
<rect x="156.78" y="199.8" width="4.45" height="3.63" fill="#eee63c"/>
<rect x="174.57" y="199.8" width="4.45" height="3.63" fill="#9cc93a"/>
<rect x="254.65" y="199.8" width="8.9" height="3.63" fill="#9cc93a"/>
<rect x="268" y="199.8" width="4.45" height="3.63" fill="#9cc93a"/>
<rect x="272.45" y="199.8" width="4.45" height="3.63" fill="#eee63c"/>
<rect x="281.35" y="199.8" width="4.45" height="3.63" fill="#9cc93a"/>
<rect x="294.69" y="199.8" width="4.45" height="3.63" fill="#9cc93a"/>
<rect x="308.04" y="199.8" width="4.45" height="3.63" fill="#eee63c"/>
<rect x="312.49" y="199.8" width="4.45" height="3.63" fill="#9cc93a"/>
<rect x="348.08" y="199.8" width="4.45" height="3.63" fill="#9cc93a"/>
<rect x="156.78" y="203.43" width="8.9" height="3.63" fill="#f59f2a"/>
<rect x="179.02" y="203.43" width="4.45" height="3.63" fill="#9cc93a"/>
<rect x="263.55" y="203.43" width="4.45" height="3.63" fill="#9cc93a"/>
<rect x="316.94" y="203.43" width="8.9" height="3.63" fill="#9cc93a"/>
<rect x="143.43" y="207.06" width="4.45" height="3.63" fill="#9cc93a"/>
<rect x="152.33" y="207.06" width="8.9" height="3.63" fill="#f59f2a"/>
<rect x="161.22" y="207.06" width="4.45" height="3.63" fill="#9cc93a"/>
<rect x="183.47" y="207.06" width="4.45" height="3.63" fill="#9cc93a"/>
<rect x="259.1" y="207.06" width="8.9" height="3.63" fill="#9cc93a"/>
<rect x="272.45" y="207.06" width="4.45" height="3.63" fill="#9cc93a"/>
<rect x="276.9" y="207.06" width="4.45" height="3.63" fill="#eee63c"/>
<rect x="299.14" y="207.06" width="4.45" height="3.63" fill="#9cc93a"/>
<rect x="312.49" y="207.06" width="4.45" height="3.63" fill="#eee63c"/>
<rect x="348.08" y="207.06" width="4.45" height="3.63" fill="#9cc93a"/>
<rect x="94.49" y="210.69" width="4.45" height="3.63" fill="#9cc93a"/>
<rect x="107.84" y="210.69" width="4.45" height="3.63" fill="#9cc93a"/>
<rect x="121.18" y="210.69" width="13.35" height="3.63" fill="#9cc93a"/>
<rect x="156.78" y="210.69" width="4.45" height="3.63" fill="#eee63c"/>
<rect x="161.22" y="210.69" width="4.45" height="3.63" fill="#f59f2a"/>
<rect x="250.2" y="210.69" width="4.45" height="3.63" fill="#9cc93a"/>
<rect x="259.1" y="210.69" width="4.45" height="3.63" fill="#9cc93a"/>
<rect x="263.55" y="210.69" width="4.45" height="3.63" fill="#eee63c"/>
<rect x="290.25" y="210.69" width="4.45" height="3.63" fill="#9cc93a"/>
<rect x="308.04" y="210.69" width="4.45" height="3.63" fill="#9cc93a"/>
<rect x="343.63" y="210.69" width="4.45" height="3.63" fill="#9cc93a"/>
<rect x="90.04" y="214.33" width="4.45" height="3.63" fill="#9cc93a"/>
<rect x="103.39" y="214.33" width="4.45" height="3.63" fill="#9cc93a"/>
<rect x="152.33" y="214.33" width="4.45" height="3.63" fill="#9cc93a"/>
<rect x="156.78" y="214.33" width="4.45" height="3.63" fill="#f59f2a"/>
<rect x="161.22" y="214.33" width="4.45" height="3.63" fill="#9cc93a"/>
<rect x="179.02" y="214.33" width="4.45" height="3.63" fill="#9cc93a"/>
<rect x="263.55" y="214.33" width="8.9" height="3.63" fill="#9cc93a"/>
<rect x="316.94" y="214.33" width="4.45" height="3.63" fill="#9cc93a"/>
<rect x="321.39" y="214.33" width="4.45" height="3.63" fill="#eee63c"/>
<rect x="343.63" y="214.33" width="4.45" height="3.63" fill="#9cc93a"/>
<rect x="130.08" y="217.96" width="4.45" height="3.63" fill="#9cc93a"/>
<rect x="156.78" y="217.96" width="4.45" height="3.63" fill="#9cc93a"/>
<rect x="161.22" y="217.96" width="4.45" height="3.63" fill="#eee63c"/>
<rect x="165.67" y="217.96" width="4.45" height="3.63" fill="#9cc93a"/>
<rect x="183.47" y="217.96" width="4.45" height="3.63" fill="#9cc93a"/>
<rect x="250.2" y="217.96" width="4.45" height="3.63" fill="#9cc93a"/>
<rect x="263.55" y="217.96" width="4.45" height="3.63" fill="#9cc93a"/>
<rect x="268" y="217.96" width="4.45" height="3.63" fill="#eee63c"/>
<rect x="290.25" y="217.96" width="8.9" height="3.63" fill="#9cc93a"/>
<rect x="308.04" y="217.96" width="4.45" height="3.63" fill="#9cc93a"/>
<rect x="343.63" y="217.96" width="4.45" height="3.63" fill="#9cc93a"/>
<rect x="361.43" y="217.96" width="8.9" height="3.63" fill="#9cc93a"/>
<rect x="103.39" y="221.59" width="4.45" height="3.63" fill="#9cc93a"/>
<rect x="130.08" y="221.59" width="4.45" height="3.63" fill="#9cc93a"/>
<rect x="156.78" y="221.59" width="4.45" height="3.63" fill="#f59f2a"/>
<rect x="161.22" y="221.59" width="4.45" height="3.63" fill="#eee63c"/>
<rect x="179.02" y="221.59" width="4.45" height="3.63" fill="#9cc93a"/>
<rect x="259.1" y="221.59" width="4.45" height="3.63" fill="#9cc93a"/>
<rect x="263.55" y="221.59" width="4.45" height="3.63" fill="#eee63c"/>
<rect x="290.25" y="221.59" width="4.45" height="3.63" fill="#9cc93a"/>
<rect x="308.04" y="221.59" width="4.45" height="3.63" fill="#9cc93a"/>
<rect x="316.94" y="221.59" width="4.45" height="3.63" fill="#9cc93a"/>
<rect x="321.39" y="221.59" width="4.45" height="3.63" fill="#eee63c"/>
<rect x="343.63" y="221.59" width="4.45" height="3.63" fill="#9cc93a"/>
<rect x="365.88" y="221.59" width="4.45" height="3.63" fill="#9cc93a"/>
<rect x="85.59" y="225.22" width="4.45" height="3.63" fill="#9cc93a"/>
<rect x="98.94" y="225.22" width="4.45" height="3.63" fill="#9cc93a"/>
<rect x="143.43" y="225.22" width="8.9" height="3.63" fill="#9cc93a"/>
<rect x="152.33" y="225.22" width="4.45" height="3.63" fill="#f59f2a"/>
<rect x="156.78" y="225.22" width="4.45" height="3.63" fill="#9cc93a"/>
<rect x="174.57" y="225.22" width="4.45" height="3.63" fill="#9cc93a"/>
<rect x="259.1" y="225.22" width="4.45" height="3.63" fill="#9cc93a"/>
<rect x="272.45" y="225.22" width="4.45" height="3.63" fill="#9cc93a"/>
<rect x="276.9" y="225.22" width="4.45" height="3.63" fill="#eee63c"/>
<rect x="285.8" y="225.22" width="4.45" height="3.63" fill="#9cc93a"/>
<rect x="299.14" y="225.22" width="4.45" height="3.63" fill="#9cc93a"/>
<rect x="312.49" y="225.22" width="4.45" height="3.63" fill="#eee63c"/>
<rect x="352.53" y="225.22" width="4.45" height="3.63" fill="#9cc93a"/>
<rect x="90.04" y="228.85" width="4.45" height="3.63" fill="#9cc93a"/>
<rect x="152.33" y="228.85" width="8.9" height="3.63" fill="#eee63c"/>
<rect x="179.02" y="228.85" width="4.45" height="3.63" fill="#9cc93a"/>
<rect x="268" y="228.85" width="4.45" height="3.63" fill="#9cc93a"/>
<rect x="308.04" y="228.85" width="4.45" height="3.63" fill="#9cc93a"/>
<rect x="130.08" y="232.48" width="4.45" height="3.63" fill="#9cc93a"/>
<rect x="152.33" y="232.48" width="4.45" height="3.63" fill="#9cc93a"/>
<rect x="156.78" y="232.48" width="4.45" height="3.63" fill="#f59f2a"/>
<rect x="174.57" y="232.48" width="8.9" height="3.63" fill="#9cc93a"/>
<rect x="259.1" y="232.48" width="4.45" height="3.63" fill="#9cc93a"/>
<rect x="263.55" y="232.48" width="4.45" height="3.63" fill="#eee63c"/>
<rect x="339.19" y="232.48" width="8.9" height="3.63" fill="#9cc93a"/>
<rect x="361.43" y="232.48" width="4.45" height="3.63" fill="#9cc93a"/>
<rect x="130.08" y="236.11" width="4.45" height="3.63" fill="#9cc93a"/>
<rect x="147.88" y="236.11" width="4.45" height="3.63" fill="#9cc93a"/>
<rect x="179.02" y="236.11" width="13.35" height="3.63" fill="#9cc93a"/>
<rect x="263.55" y="236.11" width="4.45" height="3.63" fill="#9cc93a"/>
<rect x="268" y="236.11" width="4.45" height="3.63" fill="#eee63c"/>
<rect x="272.45" y="236.11" width="4.45" height="3.63" fill="#9cc93a"/>
<rect x="290.25" y="236.11" width="4.45" height="3.63" fill="#9cc93a"/>
<rect x="316.94" y="236.11" width="4.45" height="3.63" fill="#eee63c"/>
<rect x="321.39" y="236.11" width="4.45" height="3.63" fill="#9cc93a"/>
<rect x="343.63" y="236.11" width="4.45" height="3.63" fill="#9cc93a"/>
<rect x="365.88" y="236.11" width="4.45" height="3.63" fill="#9cc93a"/>
<rect x="85.59" y="239.74" width="8.9" height="3.63" fill="#9cc93a"/>
<rect x="94.49" y="239.74" width="4.45" height="3.63" fill="#eee63c"/>
<rect x="103.39" y="239.74" width="4.45" height="3.63" fill="#9cc93a"/>
<rect x="130.08" y="239.74" width="8.9" height="3.63" fill="#9cc93a"/>
<rect x="156.78" y="239.74" width="8.9" height="3.63" fill="#f59f2a"/>
<rect x="179.02" y="239.74" width="4.45" height="3.63" fill="#9cc93a"/>
<rect x="259.1" y="239.74" width="8.9" height="3.63" fill="#9cc93a"/>
<rect x="316.94" y="239.74" width="4.45" height="3.63" fill="#9cc93a"/>
<rect x="321.39" y="239.74" width="4.45" height="3.63" fill="#eee63c"/>
<rect x="339.19" y="239.74" width="8.9" height="3.63" fill="#9cc93a"/>
<rect x="81.14" y="243.37" width="4.45" height="3.63" fill="#9cc93a"/>
<rect x="85.59" y="243.37" width="4.45" height="3.63" fill="#eee63c"/>
<rect x="90.04" y="243.37" width="4.45" height="3.63" fill="#9cc93a"/>
<rect x="98.94" y="243.37" width="4.45" height="3.63" fill="#9cc93a"/>
<rect x="134.53" y="243.37" width="4.45" height="3.63" fill="#9cc93a"/>
<rect x="143.43" y="243.37" width="4.45" height="3.63" fill="#9cc93a"/>
<rect x="179.02" y="243.37" width="8.9" height="3.63" fill="#9cc93a"/>
<rect x="263.55" y="243.37" width="8.9" height="3.63" fill="#9cc93a"/>
<rect x="276.9" y="243.37" width="8.9" height="3.63" fill="#eee63c"/>
<rect x="303.59" y="243.37" width="4.45" height="3.63" fill="#9cc93a"/>
<rect x="312.49" y="243.37" width="4.45" height="3.63" fill="#eee63c"/>
<rect x="316.94" y="243.37" width="4.45" height="3.63" fill="#9cc93a"/>
<rect x="352.53" y="243.37" width="4.45" height="3.63" fill="#9cc93a"/>
<rect x="138.98" y="247" width="4.45" height="3.63" fill="#9cc93a"/>
<rect x="165.67" y="247" width="17.8" height="3.63" fill="#9cc93a"/>
<rect x="263.55" y="247" width="8.9" height="3.63" fill="#9cc93a"/>
<rect x="276.9" y="247" width="4.45" height="3.63" fill="#9cc93a"/>
<rect x="281.35" y="247" width="4.45" height="3.63" fill="#eee63c"/>
<rect x="299.14" y="247" width="8.9" height="3.63" fill="#9cc93a"/>
<rect x="308.04" y="247" width="4.45" height="3.63" fill="#f59f2a"/>
<rect x="312.49" y="247" width="4.45" height="3.63" fill="#9cc93a"/>
<rect x="343.63" y="247" width="4.45" height="3.63" fill="#9cc93a"/>
<rect x="361.43" y="247" width="8.9" height="3.63" fill="#9cc93a"/>
<rect x="401.47" y="247" width="4.45" height="3.63" fill="#9cc93a"/>
<rect x="419.27" y="247" width="4.45" height="3.63" fill="#9cc93a"/>
<rect x="125.63" y="250.64" width="13.35" height="3.63" fill="#9cc93a"/>
<rect x="152.33" y="250.64" width="8.9" height="3.63" fill="#ea2229"/>
<rect x="161.22" y="250.64" width="4.45" height="3.63" fill="#9cc93a"/>
<rect x="174.57" y="250.64" width="13.35" height="3.63" fill="#9cc93a"/>
<rect x="263.55" y="250.64" width="4.45" height="3.63" fill="#9cc93a"/>
<rect x="268" y="250.64" width="4.45" height="3.63" fill="#eee63c"/>
<rect x="285.8" y="250.64" width="4.45" height="3.63" fill="#9cc93a"/>
<rect x="299.14" y="250.64" width="4.45" height="3.63" fill="#9cc93a"/>
<rect x="308.04" y="250.64" width="4.45" height="3.63" fill="#9cc93a"/>
<rect x="312.49" y="250.64" width="4.45" height="3.63" fill="#f59f2a"/>
<rect x="334.74" y="250.64" width="4.45" height="3.63" fill="#9cc93a"/>
<rect x="348.08" y="250.64" width="8.9" height="3.63" fill="#9cc93a"/>
<rect x="401.47" y="250.64" width="4.45" height="3.63" fill="#9cc93a"/>
<rect x="103.39" y="254.27" width="4.45" height="3.63" fill="#9cc93a"/>
<rect x="138.98" y="254.27" width="4.45" height="3.63" fill="#9cc93a"/>
<rect x="147.88" y="254.27" width="8.9" height="3.63" fill="#9cc93a"/>
<rect x="156.78" y="254.27" width="4.45" height="3.63" fill="#f59f2a"/>
<rect x="161.22" y="254.27" width="4.45" height="3.63" fill="#ea2229"/>
<rect x="174.57" y="254.27" width="17.8" height="3.63" fill="#9cc93a"/>
<rect x="223.51" y="254.27" width="4.45" height="3.63" fill="#9cc93a"/>
<rect x="259.1" y="254.27" width="4.45" height="3.63" fill="#9cc93a"/>
<rect x="263.55" y="254.27" width="4.45" height="3.63" fill="#eee63c"/>
<rect x="276.9" y="254.27" width="4.45" height="3.63" fill="#f59f2a"/>
<rect x="281.35" y="254.27" width="8.9" height="3.63" fill="#9cc93a"/>
<rect x="294.69" y="254.27" width="8.9" height="3.63" fill="#9cc93a"/>
<rect x="308.04" y="254.27" width="4.45" height="3.63" fill="#9cc93a"/>
<rect x="312.49" y="254.27" width="4.45" height="3.63" fill="#f59f2a"/>
<rect x="348.08" y="254.27" width="8.9" height="3.63" fill="#9cc93a"/>
<rect x="405.92" y="254.27" width="4.45" height="3.63" fill="#9cc93a"/>
<rect x="98.94" y="257.9" width="4.45" height="3.63" fill="#9cc93a"/>
<rect x="134.53" y="257.9" width="4.45" height="3.63" fill="#9cc93a"/>
<rect x="143.43" y="257.9" width="13.35" height="3.63" fill="#9cc93a"/>
<rect x="170.12" y="257.9" width="17.8" height="3.63" fill="#9cc93a"/>
<rect x="268" y="257.9" width="4.45" height="3.63" fill="#9cc93a"/>
<rect x="281.35" y="257.9" width="4.45" height="3.63" fill="#eee63c"/>
<rect x="285.8" y="257.9" width="4.45" height="3.63" fill="#9cc93a"/>
<rect x="312.49" y="257.9" width="4.45" height="3.63" fill="#9cc93a"/>
<rect x="316.94" y="257.9" width="4.45" height="3.63" fill="#eee63c"/>
<rect x="348.08" y="257.9" width="8.9" height="3.63" fill="#9cc93a"/>
<rect x="423.72" y="257.9" width="4.45" height="3.63" fill="#9cc93a"/>
<rect x="81.14" y="261.53" width="8.9" height="3.63" fill="#9cc93a"/>
<rect x="90.04" y="261.53" width="4.45" height="3.63" fill="#eee63c"/>
<rect x="98.94" y="261.53" width="4.45" height="3.63" fill="#9cc93a"/>
<rect x="134.53" y="261.53" width="8.9" height="3.63" fill="#9cc93a"/>
<rect x="147.88" y="261.53" width="8.9" height="3.63" fill="#9cc93a"/>
<rect x="156.78" y="261.53" width="4.45" height="3.63" fill="#ea2229"/>
<rect x="161.22" y="261.53" width="4.45" height="3.63" fill="#eee63c"/>
<rect x="179.02" y="261.53" width="8.9" height="3.63" fill="#9cc93a"/>
<rect x="223.51" y="261.53" width="4.45" height="3.63" fill="#9cc93a"/>
<rect x="263.55" y="261.53" width="8.9" height="3.63" fill="#9cc93a"/>
<rect x="276.9" y="261.53" width="8.9" height="3.63" fill="#eee63c"/>
<rect x="299.14" y="261.53" width="4.45" height="3.63" fill="#9cc93a"/>
<rect x="312.49" y="261.53" width="4.45" height="3.63" fill="#eee63c"/>
<rect x="348.08" y="261.53" width="8.9" height="3.63" fill="#9cc93a"/>
<rect x="107.84" y="265.16" width="4.45" height="3.63" fill="#9cc93a"/>
<rect x="130.08" y="265.16" width="4.45" height="3.63" fill="#9cc93a"/>
<rect x="152.33" y="265.16" width="4.45" height="3.63" fill="#9cc93a"/>
<rect x="156.78" y="265.16" width="8.9" height="3.63" fill="#f59f2a"/>
<rect x="179.02" y="265.16" width="4.45" height="3.63" fill="#9cc93a"/>
<rect x="259.1" y="265.16" width="4.45" height="3.63" fill="#9cc93a"/>
<rect x="263.55" y="265.16" width="4.45" height="3.63" fill="#eee63c"/>
<rect x="290.25" y="265.16" width="4.45" height="3.63" fill="#9cc93a"/>
<rect x="308.04" y="265.16" width="4.45" height="3.63" fill="#9cc93a"/>
<rect x="321.39" y="265.16" width="4.45" height="3.63" fill="#9cc93a"/>
<rect x="343.63" y="265.16" width="4.45" height="3.63" fill="#9cc93a"/>
<rect x="361.43" y="265.16" width="8.9" height="3.63" fill="#9cc93a"/>
<rect x="374.78" y="265.16" width="4.45" height="3.63" fill="#9cc93a"/>
<rect x="419.27" y="265.16" width="4.45" height="3.63" fill="#9cc93a"/>
<rect x="138.98" y="268.79" width="4.45" height="3.63" fill="#9cc93a"/>
<rect x="165.67" y="268.79" width="8.9" height="3.63" fill="#f59f2a"/>
<rect x="174.57" y="268.79" width="8.9" height="3.63" fill="#9cc93a"/>
<rect x="254.65" y="268.79" width="4.45" height="3.63" fill="#9cc93a"/>
<rect x="259.1" y="268.79" width="4.45" height="3.63" fill="#eee63c"/>
<rect x="272.45" y="268.79" width="8.9" height="3.63" fill="#eee63c"/>
<rect x="285.8" y="268.79" width="4.45" height="3.63" fill="#9cc93a"/>
<rect x="294.69" y="268.79" width="8.9" height="3.63" fill="#9cc93a"/>
<rect x="343.63" y="268.79" width="8.9" height="3.63" fill="#9cc93a"/>
<rect x="365.88" y="268.79" width="4.45" height="3.63" fill="#9cc93a"/>
<rect x="423.72" y="268.79" width="4.45" height="3.63" fill="#9cc93a"/>
<rect x="130.08" y="272.42" width="8.9" height="3.63" fill="#9cc93a"/>
<rect x="161.22" y="272.42" width="4.45" height="3.63" fill="#9cc93a"/>
<rect x="165.67" y="272.42" width="4.45" height="3.63" fill="#f59f2a"/>
<rect x="170.12" y="272.42" width="4.45" height="3.63" fill="#eee63c"/>
<rect x="263.55" y="272.42" width="8.9" height="3.63" fill="#9cc93a"/>
<rect x="285.8" y="272.42" width="8.9" height="3.63" fill="#eee63c"/>
<rect x="303.59" y="272.42" width="8.9" height="3.63" fill="#9cc93a"/>
<rect x="312.49" y="272.42" width="4.45" height="3.63" fill="#eee63c"/>
<rect x="348.08" y="272.42" width="4.45" height="3.63" fill="#9cc93a"/>
<rect x="365.88" y="272.42" width="4.45" height="3.63" fill="#9cc93a"/>
<rect x="90.04" y="276.05" width="8.9" height="3.63" fill="#9cc93a"/>
<rect x="103.39" y="276.05" width="4.45" height="3.63" fill="#9cc93a"/>
<rect x="125.63" y="276.05" width="13.35" height="3.63" fill="#9cc93a"/>
<rect x="152.33" y="276.05" width="4.45" height="3.63" fill="#9cc93a"/>
<rect x="156.78" y="276.05" width="4.45" height="3.63" fill="#f59f2a"/>
<rect x="161.22" y="276.05" width="4.45" height="3.63" fill="#ea2229"/>
<rect x="165.67" y="276.05" width="4.45" height="3.63" fill="#9cc93a"/>
<rect x="174.57" y="276.05" width="13.35" height="3.63" fill="#9cc93a"/>
<rect x="227.96" y="276.05" width="4.45" height="3.63" fill="#9cc93a"/>
<rect x="250.2" y="276.05" width="4.45" height="3.63" fill="#9cc93a"/>
<rect x="268" y="276.05" width="4.45" height="3.63" fill="#9cc93a"/>
<rect x="285.8" y="276.05" width="8.9" height="3.63" fill="#9cc93a"/>
<rect x="303.59" y="276.05" width="4.45" height="3.63" fill="#9cc93a"/>
<rect x="316.94" y="276.05" width="4.45" height="3.63" fill="#f59f2a"/>
<rect x="321.39" y="276.05" width="4.45" height="3.63" fill="#eee63c"/>
<rect x="339.19" y="276.05" width="4.45" height="3.63" fill="#9cc93a"/>
<rect x="356.98" y="276.05" width="4.45" height="3.63" fill="#9cc93a"/>
<rect x="410.37" y="276.05" width="8.9" height="3.63" fill="#9cc93a"/>
<rect x="85.59" y="279.68" width="4.45" height="3.63" fill="#9cc93a"/>
<rect x="90.04" y="279.68" width="4.45" height="3.63" fill="#eee63c"/>
<rect x="94.49" y="279.68" width="13.35" height="3.63" fill="#9cc93a"/>
<rect x="130.08" y="279.68" width="8.9" height="3.63" fill="#9cc93a"/>
<rect x="152.33" y="279.68" width="4.45" height="3.63" fill="#eee63c"/>
<rect x="156.78" y="279.68" width="4.45" height="3.63" fill="#ea2229"/>
<rect x="161.22" y="279.68" width="4.45" height="3.63" fill="#eee63c"/>
<rect x="179.02" y="279.68" width="8.9" height="3.63" fill="#9cc93a"/>
<rect x="245.76" y="279.68" width="4.45" height="3.63" fill="#9cc93a"/>
<rect x="259.1" y="279.68" width="8.9" height="3.63" fill="#9cc93a"/>
<rect x="272.45" y="279.68" width="4.45" height="3.63" fill="#9cc93a"/>
<rect x="285.8" y="279.68" width="8.9" height="3.63" fill="#9cc93a"/>
<rect x="299.14" y="279.68" width="8.9" height="3.63" fill="#9cc93a"/>
<rect x="312.49" y="279.68" width="8.9" height="3.63" fill="#eee63c"/>
<rect x="352.53" y="279.68" width="4.45" height="3.63" fill="#9cc93a"/>
<rect x="361.43" y="279.68" width="4.45" height="3.63" fill="#9cc93a"/>
<rect x="405.92" y="279.68" width="4.45" height="3.63" fill="#9cc93a"/>
<rect x="94.49" y="283.31" width="4.45" height="3.63" fill="#9cc93a"/>
<rect x="107.84" y="283.31" width="4.45" height="3.63" fill="#9cc93a"/>
<rect x="121.18" y="283.31" width="4.45" height="3.63" fill="#9cc93a"/>
<rect x="130.08" y="283.31" width="4.45" height="3.63" fill="#9cc93a"/>
<rect x="138.98" y="283.31" width="8.9" height="3.63" fill="#9cc93a"/>
<rect x="152.33" y="283.31" width="4.45" height="3.63" fill="#eee63c"/>
<rect x="156.78" y="283.31" width="4.45" height="3.63" fill="#ea2229"/>
<rect x="161.22" y="283.31" width="4.45" height="3.63" fill="#f59f2a"/>
<rect x="179.02" y="283.31" width="4.45" height="3.63" fill="#9cc93a"/>
<rect x="223.51" y="283.31" width="4.45" height="3.63" fill="#9cc93a"/>
<rect x="245.76" y="283.31" width="4.45" height="3.63" fill="#9cc93a"/>
<rect x="259.1" y="283.31" width="4.45" height="3.63" fill="#eee63c"/>
<rect x="263.55" y="283.31" width="4.45" height="3.63" fill="#9cc93a"/>
<rect x="276.9" y="283.31" width="4.45" height="3.63" fill="#9cc93a"/>
<rect x="290.25" y="283.31" width="4.45" height="3.63" fill="#9cc93a"/>
<rect x="303.59" y="283.31" width="8.9" height="3.63" fill="#9cc93a"/>
<rect x="316.94" y="283.31" width="4.45" height="3.63" fill="#9cc93a"/>
<rect x="321.39" y="283.31" width="4.45" height="3.63" fill="#f59f2a"/>
<rect x="343.63" y="283.31" width="4.45" height="3.63" fill="#9cc93a"/>
<rect x="361.43" y="283.31" width="8.9" height="3.63" fill="#9cc93a"/>
<rect x="401.47" y="283.31" width="4.45" height="3.63" fill="#9cc93a"/>
<rect x="419.27" y="283.31" width="4.45" height="3.63" fill="#9cc93a"/>
<rect x="134.53" y="286.95" width="4.45" height="3.63" fill="#9cc93a"/>
<rect x="161.22" y="286.95" width="4.45" height="3.63" fill="#9cc93a"/>
<rect x="165.67" y="286.95" width="4.45" height="3.63" fill="#eee63c"/>
<rect x="183.47" y="286.95" width="4.45" height="3.63" fill="#9cc93a"/>
<rect x="250.2" y="286.95" width="4.45" height="3.63" fill="#9cc93a"/>
<rect x="263.55" y="286.95" width="4.45" height="3.63" fill="#eee63c"/>
<rect x="268" y="286.95" width="4.45" height="3.63" fill="#9cc93a"/>
<rect x="294.69" y="286.95" width="4.45" height="3.63" fill="#9cc93a"/>
<rect x="343.63" y="286.95" width="4.45" height="3.63" fill="#9cc93a"/>
<rect x="356.98" y="286.95" width="8.9" height="3.63" fill="#9cc93a"/>
<rect x="50" y="50.43" width="462.7" height="1.1" fill="#000" fill-opacity="0.07"/>
<rect x="50" y="54.06" width="462.7" height="1.1" fill="#000" fill-opacity="0.07"/>
<rect x="50" y="57.69" width="462.7" height="1.1" fill="#000" fill-opacity="0.07"/>
<rect x="50" y="61.32" width="462.7" height="1.1" fill="#000" fill-opacity="0.07"/>
<rect x="50" y="64.95" width="462.7" height="1.1" fill="#000" fill-opacity="0.07"/>
<rect x="50" y="68.59" width="462.7" height="1.1" fill="#000" fill-opacity="0.07"/>
<rect x="50" y="72.22" width="462.7" height="1.1" fill="#000" fill-opacity="0.07"/>
<rect x="50" y="75.85" width="462.7" height="1.1" fill="#000" fill-opacity="0.07"/>
<rect x="50" y="79.48" width="462.7" height="1.1" fill="#000" fill-opacity="0.07"/>
<rect x="50" y="83.11" width="462.7" height="1.1" fill="#000" fill-opacity="0.07"/>
<rect x="50" y="86.74" width="462.7" height="1.1" fill="#000" fill-opacity="0.07"/>
<rect x="50" y="90.37" width="462.7" height="1.1" fill="#000" fill-opacity="0.07"/>
<rect x="50" y="94" width="462.7" height="1.1" fill="#000" fill-opacity="0.07"/>
<rect x="50" y="97.63" width="462.7" height="1.1" fill="#000" fill-opacity="0.07"/>
<rect x="50" y="101.26" width="462.7" height="1.1" fill="#000" fill-opacity="0.07"/>
<rect x="50" y="104.9" width="462.7" height="1.1" fill="#000" fill-opacity="0.07"/>
<rect x="50" y="108.53" width="462.7" height="1.1" fill="#000" fill-opacity="0.07"/>
<rect x="50" y="112.16" width="462.7" height="1.1" fill="#000" fill-opacity="0.07"/>
<rect x="50" y="115.79" width="462.7" height="1.1" fill="#000" fill-opacity="0.07"/>
<rect x="50" y="119.42" width="462.7" height="1.1" fill="#000" fill-opacity="0.07"/>
<rect x="50" y="123.05" width="462.7" height="1.1" fill="#000" fill-opacity="0.07"/>
<rect x="50" y="126.68" width="462.7" height="1.1" fill="#000" fill-opacity="0.07"/>
<rect x="50" y="130.31" width="462.7" height="1.1" fill="#000" fill-opacity="0.07"/>
<rect x="50" y="133.94" width="462.7" height="1.1" fill="#000" fill-opacity="0.07"/>
<rect x="50" y="137.57" width="462.7" height="1.1" fill="#000" fill-opacity="0.07"/>
<rect x="50" y="141.21" width="462.7" height="1.1" fill="#000" fill-opacity="0.07"/>
<rect x="50" y="144.84" width="462.7" height="1.1" fill="#000" fill-opacity="0.07"/>
<rect x="50" y="148.47" width="462.7" height="1.1" fill="#000" fill-opacity="0.07"/>
<rect x="50" y="152.1" width="462.7" height="1.1" fill="#000" fill-opacity="0.07"/>
<rect x="50" y="155.73" width="462.7" height="1.1" fill="#000" fill-opacity="0.07"/>
<rect x="50" y="159.36" width="462.7" height="1.1" fill="#000" fill-opacity="0.07"/>
<rect x="50" y="162.99" width="462.7" height="1.1" fill="#000" fill-opacity="0.07"/>
<rect x="50" y="166.62" width="462.7" height="1.1" fill="#000" fill-opacity="0.07"/>
<rect x="50" y="170.25" width="462.7" height="1.1" fill="#000" fill-opacity="0.07"/>
<rect x="50" y="173.88" width="462.7" height="1.1" fill="#000" fill-opacity="0.07"/>
<rect x="50" y="177.52" width="462.7" height="1.1" fill="#000" fill-opacity="0.07"/>
<rect x="50" y="181.15" width="462.7" height="1.1" fill="#000" fill-opacity="0.07"/>
<rect x="50" y="184.78" width="462.7" height="1.1" fill="#000" fill-opacity="0.07"/>
<rect x="50" y="188.41" width="462.7" height="1.1" fill="#000" fill-opacity="0.07"/>
<rect x="50" y="192.04" width="462.7" height="1.1" fill="#000" fill-opacity="0.07"/>
<rect x="50" y="195.67" width="462.7" height="1.1" fill="#000" fill-opacity="0.07"/>
<rect x="50" y="199.3" width="462.7" height="1.1" fill="#000" fill-opacity="0.07"/>
<rect x="50" y="202.93" width="462.7" height="1.1" fill="#000" fill-opacity="0.07"/>
<rect x="50" y="206.56" width="462.7" height="1.1" fill="#000" fill-opacity="0.07"/>
<rect x="50" y="210.19" width="462.7" height="1.1" fill="#000" fill-opacity="0.07"/>
<rect x="50" y="213.83" width="462.7" height="1.1" fill="#000" fill-opacity="0.07"/>
<rect x="50" y="217.46" width="462.7" height="1.1" fill="#000" fill-opacity="0.07"/>
<rect x="50" y="221.09" width="462.7" height="1.1" fill="#000" fill-opacity="0.07"/>
<rect x="50" y="224.72" width="462.7" height="1.1" fill="#000" fill-opacity="0.07"/>
<rect x="50" y="228.35" width="462.7" height="1.1" fill="#000" fill-opacity="0.07"/>
<rect x="50" y="231.98" width="462.7" height="1.1" fill="#000" fill-opacity="0.07"/>
<rect x="50" y="235.61" width="462.7" height="1.1" fill="#000" fill-opacity="0.07"/>
<rect x="50" y="239.24" width="462.7" height="1.1" fill="#000" fill-opacity="0.07"/>
<rect x="50" y="242.87" width="462.7" height="1.1" fill="#000" fill-opacity="0.07"/>
<rect x="50" y="246.5" width="462.7" height="1.1" fill="#000" fill-opacity="0.07"/>
<rect x="50" y="250.14" width="462.7" height="1.1" fill="#000" fill-opacity="0.07"/>
<rect x="50" y="253.77" width="462.7" height="1.1" fill="#000" fill-opacity="0.07"/>
<rect x="50" y="257.4" width="462.7" height="1.1" fill="#000" fill-opacity="0.07"/>
<rect x="50" y="261.03" width="462.7" height="1.1" fill="#000" fill-opacity="0.07"/>
<rect x="50" y="264.66" width="462.7" height="1.1" fill="#000" fill-opacity="0.07"/>
<rect x="50" y="268.29" width="462.7" height="1.1" fill="#000" fill-opacity="0.07"/>
<rect x="50" y="271.92" width="462.7" height="1.1" fill="#000" fill-opacity="0.07"/>
<rect x="50" y="275.55" width="462.7" height="1.1" fill="#000" fill-opacity="0.07"/>
<rect x="50" y="279.18" width="462.7" height="1.1" fill="#000" fill-opacity="0.07"/>
<rect x="50" y="282.81" width="462.7" height="1.1" fill="#000" fill-opacity="0.07"/>
<rect x="50" y="286.45" width="462.7" height="1.1" fill="#000" fill-opacity="0.07"/>
<rect x="50.4" y="47.7" width="461.9" height="242.48" fill="none" stroke="#1c1d5c" stroke-width="0.8"/>
<text x="46.8" y="53.1" font-size="7.4" text-anchor="end" style="stroke-width:0.1px">2020/10/18</text>
<text x="46.8" y="70.8" font-size="7.4" text-anchor="end" style="stroke-width:0.1px">2020/11/01</text>
<text x="46.8" y="103.8" font-size="7.4" text-anchor="end" style="stroke-width:0.1px">2020/12/01</text>
<text x="46.8" y="133" font-size="7.4" text-anchor="end" style="stroke-width:0.1px">2021/01/08</text>
<text x="46.8" y="143.8" font-size="7.4" text-anchor="end" style="stroke-width:0.1px">2021/02/03</text>
<text x="46.8" y="161.5" font-size="7.4" text-anchor="end" style="stroke-width:0.1px">2021/03/08</text>
<text x="46.8" y="183.1" font-size="7.4" text-anchor="end" style="stroke-width:0.1px">2021/04/05</text>
<text x="46.8" y="205.5" font-size="7.4" text-anchor="end" style="stroke-width:0.1px">2021/05/19</text>
<text x="46.8" y="212.5" font-size="7.4" text-anchor="end" style="stroke-width:0.1px">2021/06/29</text>
<text x="46.8" y="248.4" font-size="7.4" text-anchor="end" style="stroke-width:0.1px">2021/08/27</text>
<text x="46.8" y="256.6" font-size="7.4" text-anchor="end" style="stroke-width:0.1px">2021/09/08</text>
<rect x="79.89" y="371.67" width="2.5" height="1.83" fill="#28439a" stroke="#17224f" stroke-width="0.5"/>
<rect x="84.34" y="365.69" width="2.5" height="7.81" fill="#28439a" stroke="#17224f" stroke-width="0.5"/>
<rect x="88.79" y="362.89" width="2.5" height="10.61" fill="#28439a" stroke="#17224f" stroke-width="0.5"/>
<rect x="93.24" y="364.17" width="2.5" height="9.33" fill="#28439a" stroke="#17224f" stroke-width="0.5"/>
<rect x="97.69" y="357.64" width="2.5" height="15.86" fill="#28439a" stroke="#17224f" stroke-width="0.5"/>
<rect x="102.14" y="361.3" width="2.5" height="12.2" fill="#28439a" stroke="#17224f" stroke-width="0.5"/>
<rect x="106.59" y="369.47" width="2.5" height="4.03" fill="#28439a" stroke="#17224f" stroke-width="0.5"/>
<rect x="111.04" y="372.77" width="2.5" height="0.73" fill="#28439a" stroke="#17224f" stroke-width="0.5"/>
<rect x="115.49" y="372.77" width="2.5" height="0.73" fill="#28439a" stroke="#17224f" stroke-width="0.5"/>
<rect x="119.93" y="370.45" width="2.5" height="3.05" fill="#28439a" stroke="#17224f" stroke-width="0.5"/>
<rect x="124.38" y="367.4" width="2.5" height="6.1" fill="#28439a" stroke="#17224f" stroke-width="0.5"/>
<rect x="128.83" y="359.84" width="2.5" height="13.66" fill="#28439a" stroke="#17224f" stroke-width="0.5"/>
<rect x="133.28" y="353.61" width="2.5" height="19.89" fill="#28439a" stroke="#17224f" stroke-width="0.5"/>
<rect x="137.73" y="358.25" width="2.5" height="15.25" fill="#28439a" stroke="#17224f" stroke-width="0.5"/>
<rect x="142.18" y="353.98" width="2.5" height="19.52" fill="#28439a" stroke="#17224f" stroke-width="0.5"/>
<rect x="146.63" y="360.08" width="2.5" height="13.42" fill="#28439a" stroke="#17224f" stroke-width="0.5"/>
<rect x="151.08" y="346.84" width="2.5" height="26.66" fill="#28439a" stroke="#17224f" stroke-width="0.5"/>
<rect x="155.53" y="346.11" width="2.5" height="27.39" fill="#28439a" stroke="#17224f" stroke-width="0.5"/>
<rect x="159.97" y="348.73" width="2.5" height="24.77" fill="#28439a" stroke="#17224f" stroke-width="0.5"/>
<rect x="164.42" y="355.81" width="2.5" height="17.69" fill="#28439a" stroke="#17224f" stroke-width="0.5"/>
<rect x="168.87" y="352.76" width="2.5" height="20.74" fill="#28439a" stroke="#17224f" stroke-width="0.5"/>
<rect x="173.32" y="344.52" width="2.5" height="28.98" fill="#28439a" stroke="#17224f" stroke-width="0.5"/>
<rect x="177.77" y="346.9" width="2.5" height="26.6" fill="#28439a" stroke="#17224f" stroke-width="0.5"/>
<rect x="182.22" y="357.64" width="2.5" height="15.86" fill="#28439a" stroke="#17224f" stroke-width="0.5"/>
<rect x="186.67" y="371.06" width="2.5" height="2.44" fill="#28439a" stroke="#17224f" stroke-width="0.5"/>
<rect x="217.81" y="372.58" width="2.5" height="0.92" fill="#28439a" stroke="#17224f" stroke-width="0.5"/>
<rect x="222.26" y="371.3" width="2.5" height="2.2" fill="#28439a" stroke="#17224f" stroke-width="0.5"/>
<rect x="226.71" y="372.58" width="2.5" height="0.92" fill="#28439a" stroke="#17224f" stroke-width="0.5"/>
<rect x="240.06" y="368.01" width="2.5" height="5.49" fill="#28439a" stroke="#17224f" stroke-width="0.5"/>
<rect x="244.51" y="359.65" width="2.5" height="13.85" fill="#28439a" stroke="#17224f" stroke-width="0.5"/>
<rect x="248.96" y="368.86" width="2.5" height="4.64" fill="#28439a" stroke="#17224f" stroke-width="0.5"/>
<rect x="253.4" y="369.72" width="2.5" height="3.78" fill="#28439a" stroke="#17224f" stroke-width="0.5"/>
<rect x="257.85" y="353.37" width="2.5" height="20.13" fill="#28439a" stroke="#17224f" stroke-width="0.5"/>
<rect x="262.3" y="333.85" width="2.5" height="39.65" fill="#28439a" stroke="#17224f" stroke-width="0.5"/>
<rect x="266.75" y="355.2" width="2.5" height="18.3" fill="#28439a" stroke="#17224f" stroke-width="0.5"/>
<rect x="271.2" y="357.33" width="2.5" height="16.17" fill="#28439a" stroke="#17224f" stroke-width="0.5"/>
<rect x="275.65" y="345.44" width="2.5" height="28.06" fill="#28439a" stroke="#17224f" stroke-width="0.5"/>
<rect x="280.1" y="350.32" width="2.5" height="23.18" fill="#28439a" stroke="#17224f" stroke-width="0.5"/>
<rect x="284.55" y="358.56" width="2.5" height="14.94" fill="#28439a" stroke="#17224f" stroke-width="0.5"/>
<rect x="289" y="362.64" width="2.5" height="10.86" fill="#28439a" stroke="#17224f" stroke-width="0.5"/>
<rect x="293.44" y="364.17" width="2.5" height="9.33" fill="#28439a" stroke="#17224f" stroke-width="0.5"/>
<rect x="297.89" y="355.57" width="2.5" height="17.93" fill="#28439a" stroke="#17224f" stroke-width="0.5"/>
<rect x="302.34" y="354.16" width="2.5" height="19.34" fill="#28439a" stroke="#17224f" stroke-width="0.5"/>
<rect x="306.79" y="348.31" width="2.5" height="25.19" fill="#28439a" stroke="#17224f" stroke-width="0.5"/>
<rect x="311.24" y="334.34" width="2.5" height="39.16" fill="#28439a" stroke="#17224f" stroke-width="0.5"/>
<rect x="315.69" y="350.44" width="2.5" height="23.06" fill="#28439a" stroke="#17224f" stroke-width="0.5"/>
<rect x="320.14" y="365.14" width="2.5" height="8.36" fill="#28439a" stroke="#17224f" stroke-width="0.5"/>
<rect x="329.04" y="372.58" width="2.5" height="0.92" fill="#28439a" stroke="#17224f" stroke-width="0.5"/>
<rect x="333.49" y="368.93" width="2.5" height="4.57" fill="#28439a" stroke="#17224f" stroke-width="0.5"/>
<rect x="337.94" y="366.06" width="2.5" height="7.44" fill="#28439a" stroke="#17224f" stroke-width="0.5"/>
<rect x="342.38" y="358.56" width="2.5" height="14.94" fill="#28439a" stroke="#17224f" stroke-width="0.5"/>
<rect x="346.83" y="342.27" width="2.5" height="31.23" fill="#28439a" stroke="#17224f" stroke-width="0.5"/>
<rect x="351.28" y="358.25" width="2.5" height="15.25" fill="#28439a" stroke="#17224f" stroke-width="0.5"/>
<rect x="355.73" y="371.67" width="2.5" height="1.83" fill="#28439a" stroke="#17224f" stroke-width="0.5"/>
<rect x="360.18" y="365.14" width="2.5" height="8.36" fill="#28439a" stroke="#17224f" stroke-width="0.5"/>
<rect x="364.63" y="361.91" width="2.5" height="11.59" fill="#28439a" stroke="#17224f" stroke-width="0.5"/>
<rect x="369.08" y="371.67" width="2.5" height="1.83" fill="#28439a" stroke="#17224f" stroke-width="0.5"/>
<rect x="373.53" y="372.58" width="2.5" height="0.92" fill="#28439a" stroke="#17224f" stroke-width="0.5"/>
<rect x="400.22" y="367.7" width="2.5" height="5.8" fill="#28439a" stroke="#17224f" stroke-width="0.5"/>
<rect x="404.67" y="366.18" width="2.5" height="7.32" fill="#28439a" stroke="#17224f" stroke-width="0.5"/>
<rect x="409.12" y="372.28" width="2.5" height="1.22" fill="#28439a" stroke="#17224f" stroke-width="0.5"/>
<rect x="413.57" y="372.58" width="2.5" height="0.92" fill="#28439a" stroke="#17224f" stroke-width="0.5"/>
<rect x="418.02" y="364.17" width="2.5" height="9.33" fill="#28439a" stroke="#17224f" stroke-width="0.5"/>
<rect x="422.47" y="372.28" width="2.5" height="1.22" fill="#28439a" stroke="#17224f" stroke-width="0.5"/>
<rect x="426.92" y="372.58" width="2.5" height="0.92" fill="#28439a" stroke="#17224f" stroke-width="0.5"/>
<rect x="431.36" y="372.58" width="2.5" height="0.92" fill="#28439a" stroke="#17224f" stroke-width="0.5"/>
<polyline points="50.5,343 61.4,343 74.4,326.4 234.7,326.4 251.5,343.1 397.9,342.8 411.3,356.9 420.2,356.9 427.8,353.2 436.4,353.3 442.5,355.4 497.4,355.4 506.4,342.9 512.5,342.9" fill="none" stroke="#f0242c" stroke-width="1.25" stroke-linejoin="round"/>
<line x1="50.5" y1="343.1" x2="512.5" y2="343.1" stroke="#9a9a9a" stroke-width="1.6" stroke-dasharray="5.9 3.43" stroke-dashoffset="2.96"/>
<circle cx="251.5" cy="343.1" r="4" fill="#ee1c24"/>
<circle cx="397.9" cy="342.7" r="4" fill="#ee1c24"/>
<circle cx="156.2" cy="341.1" r="4.1" fill="none" stroke="#f01820" stroke-width="1.5" stroke-dasharray="1.3 1.276"/>
<circle cx="178.2" cy="342.1" r="4.1" fill="none" stroke="#f01820" stroke-width="1.5" stroke-dasharray="1.3 1.276"/>
<circle cx="262.7" cy="332.9" r="4.1" fill="none" stroke="#f01820" stroke-width="1.5" stroke-dasharray="1.3 1.276"/>
<circle cx="312.1" cy="334.2" r="4.1" fill="none" stroke="#f01820" stroke-width="1.5" stroke-dasharray="1.3 1.276"/>
<circle cx="347.2" cy="343.4" r="4.1" fill="none" stroke="#f01820" stroke-width="1.5" stroke-dasharray="1.3 1.276"/>
<path d="M155.38,341.5 L158.18,341.5 L156.78,344.8 Z" fill="#1c2a6a"/>
<path d="M177.62,342.1 L180.42,342.1 L179.02,345.4 Z" fill="#1c2a6a"/>
<rect x="50.5" y="312.5" width="462" height="61" fill="none" stroke="#5a5a5a" stroke-width="1"/>
<text x="50" y="387.8" font-size="10" text-anchor="middle">3.51</text>
<line x1="90.04" y1="373.5" x2="90.04" y2="369.5" stroke="#444" stroke-width="0.9"/>
<line x1="90.04" y1="312.5" x2="90.04" y2="316.5" stroke="#444" stroke-width="0.9"/>
<text x="90.04" y="387.8" font-size="10" text-anchor="middle">3.6</text>
<line x1="134.53" y1="373.5" x2="134.53" y2="369.5" stroke="#444" stroke-width="0.9"/>
<line x1="134.53" y1="312.5" x2="134.53" y2="316.5" stroke="#444" stroke-width="0.9"/>
<text x="134.53" y="387.8" font-size="10" text-anchor="middle">3.7</text>
<line x1="179.02" y1="373.5" x2="179.02" y2="369.5" stroke="#444" stroke-width="0.9"/>
<line x1="179.02" y1="312.5" x2="179.02" y2="316.5" stroke="#444" stroke-width="0.9"/>
<text x="179.02" y="387.8" font-size="10" text-anchor="middle">3.8</text>
<line x1="223.51" y1="373.5" x2="223.51" y2="369.5" stroke="#444" stroke-width="0.9"/>
<line x1="223.51" y1="312.5" x2="223.51" y2="316.5" stroke="#444" stroke-width="0.9"/>
<text x="223.51" y="387.8" font-size="10" text-anchor="middle">3.9</text>
<line x1="268" y1="373.5" x2="268" y2="369.5" stroke="#444" stroke-width="0.9"/>
<line x1="268" y1="312.5" x2="268" y2="316.5" stroke="#444" stroke-width="0.9"/>
<text x="268" y="387.8" font-size="10" text-anchor="middle">4</text>
<line x1="312.49" y1="373.5" x2="312.49" y2="369.5" stroke="#444" stroke-width="0.9"/>
<line x1="312.49" y1="312.5" x2="312.49" y2="316.5" stroke="#444" stroke-width="0.9"/>
<text x="312.49" y="387.8" font-size="10" text-anchor="middle">4.1</text>
<line x1="356.98" y1="373.5" x2="356.98" y2="369.5" stroke="#444" stroke-width="0.9"/>
<line x1="356.98" y1="312.5" x2="356.98" y2="316.5" stroke="#444" stroke-width="0.9"/>
<text x="356.98" y="387.8" font-size="10" text-anchor="middle">4.2</text>
<line x1="401.47" y1="373.5" x2="401.47" y2="369.5" stroke="#444" stroke-width="0.9"/>
<line x1="401.47" y1="312.5" x2="401.47" y2="316.5" stroke="#444" stroke-width="0.9"/>
<text x="401.47" y="387.8" font-size="10" text-anchor="middle">4.3</text>
<line x1="445.96" y1="373.5" x2="445.96" y2="369.5" stroke="#444" stroke-width="0.9"/>
<line x1="445.96" y1="312.5" x2="445.96" y2="316.5" stroke="#444" stroke-width="0.9"/>
<text x="445.96" y="387.8" font-size="10" text-anchor="middle">4.4</text>
<line x1="490.45" y1="373.5" x2="490.45" y2="369.5" stroke="#444" stroke-width="0.9"/>
<line x1="490.45" y1="312.5" x2="490.45" y2="316.5" stroke="#444" stroke-width="0.9"/>
<text x="490.45" y="387.8" font-size="10" text-anchor="middle">4.5</text>
<text x="512.7" y="387.8" font-size="10" text-anchor="middle">4.55</text>
<text x="45.3" y="377.4" font-size="10" text-anchor="end">0</text>
<line x1="50.5" y1="361.3" x2="54.5" y2="361.3" stroke="#444" stroke-width="0.9"/>
<text x="45.3" y="365.2" font-size="10" text-anchor="end">0.2</text>
<line x1="50.5" y1="349.1" x2="54.5" y2="349.1" stroke="#444" stroke-width="0.9"/>
<text x="45.3" y="353" font-size="10" text-anchor="end">0.4</text>
<line x1="50.5" y1="336.9" x2="54.5" y2="336.9" stroke="#444" stroke-width="0.9"/>
<text x="45.3" y="340.8" font-size="10" text-anchor="end">0.6</text>
<line x1="50.5" y1="324.7" x2="54.5" y2="324.7" stroke="#444" stroke-width="0.9"/>
<text x="45.3" y="328.6" font-size="10" text-anchor="end">0.8</text>
<text x="45.3" y="316.4" font-size="10" text-anchor="end">1</text>
<line x1="512.5" y1="317.7" x2="508.5" y2="317.7" stroke="#444" stroke-width="0.9"/>
<text x="515.5" y="321.1" font-size="10">5</text>
<line x1="512.5" y1="343.2" x2="508.5" y2="343.2" stroke="#444" stroke-width="0.9"/>
<text x="515.5" y="346.6" font-size="10">0</text>
<line x1="512.5" y1="368.7" x2="508.5" y2="368.7" stroke="#444" stroke-width="0.9"/>
<text x="515.5" y="372.1" font-size="10">-5</text>
<text x="513.1" y="309.1" font-size="12.3">×</text>
<text x="521.1" y="307.7" font-size="12">10</text>
<text x="532.4" y="302.8" font-size="8.2">-3</text>
<text transform="translate(12.7,342.4) rotate(-90) scale(1,1.04)" font-size="12.3" text-anchor="middle">Number of</text>
<text transform="translate(27.1,343.2) rotate(-90)" font-size="11.9" text-anchor="middle">detection [-]</text>
<text transform="translate(541.8,343.1) rotate(-90)" font-size="12.3" text-anchor="middle">Curvature[m<tspan font-size="8" dy="-4.5">-1</tspan><tspan dy="4.5">]</tspan></text>
<text transform="translate(281.4,401.6) scale(1,1.05)" font-size="12" text-anchor="middle">Distance [km]</text>
<text transform="translate(158.1,324.9) scale(1,1.12)" font-size="13.2" text-anchor="middle">R310</text>
<text transform="translate(437.8,338.6) scale(1,1.12)" font-size="13.2" text-anchor="middle">R360</text>
</svg></body></html>
